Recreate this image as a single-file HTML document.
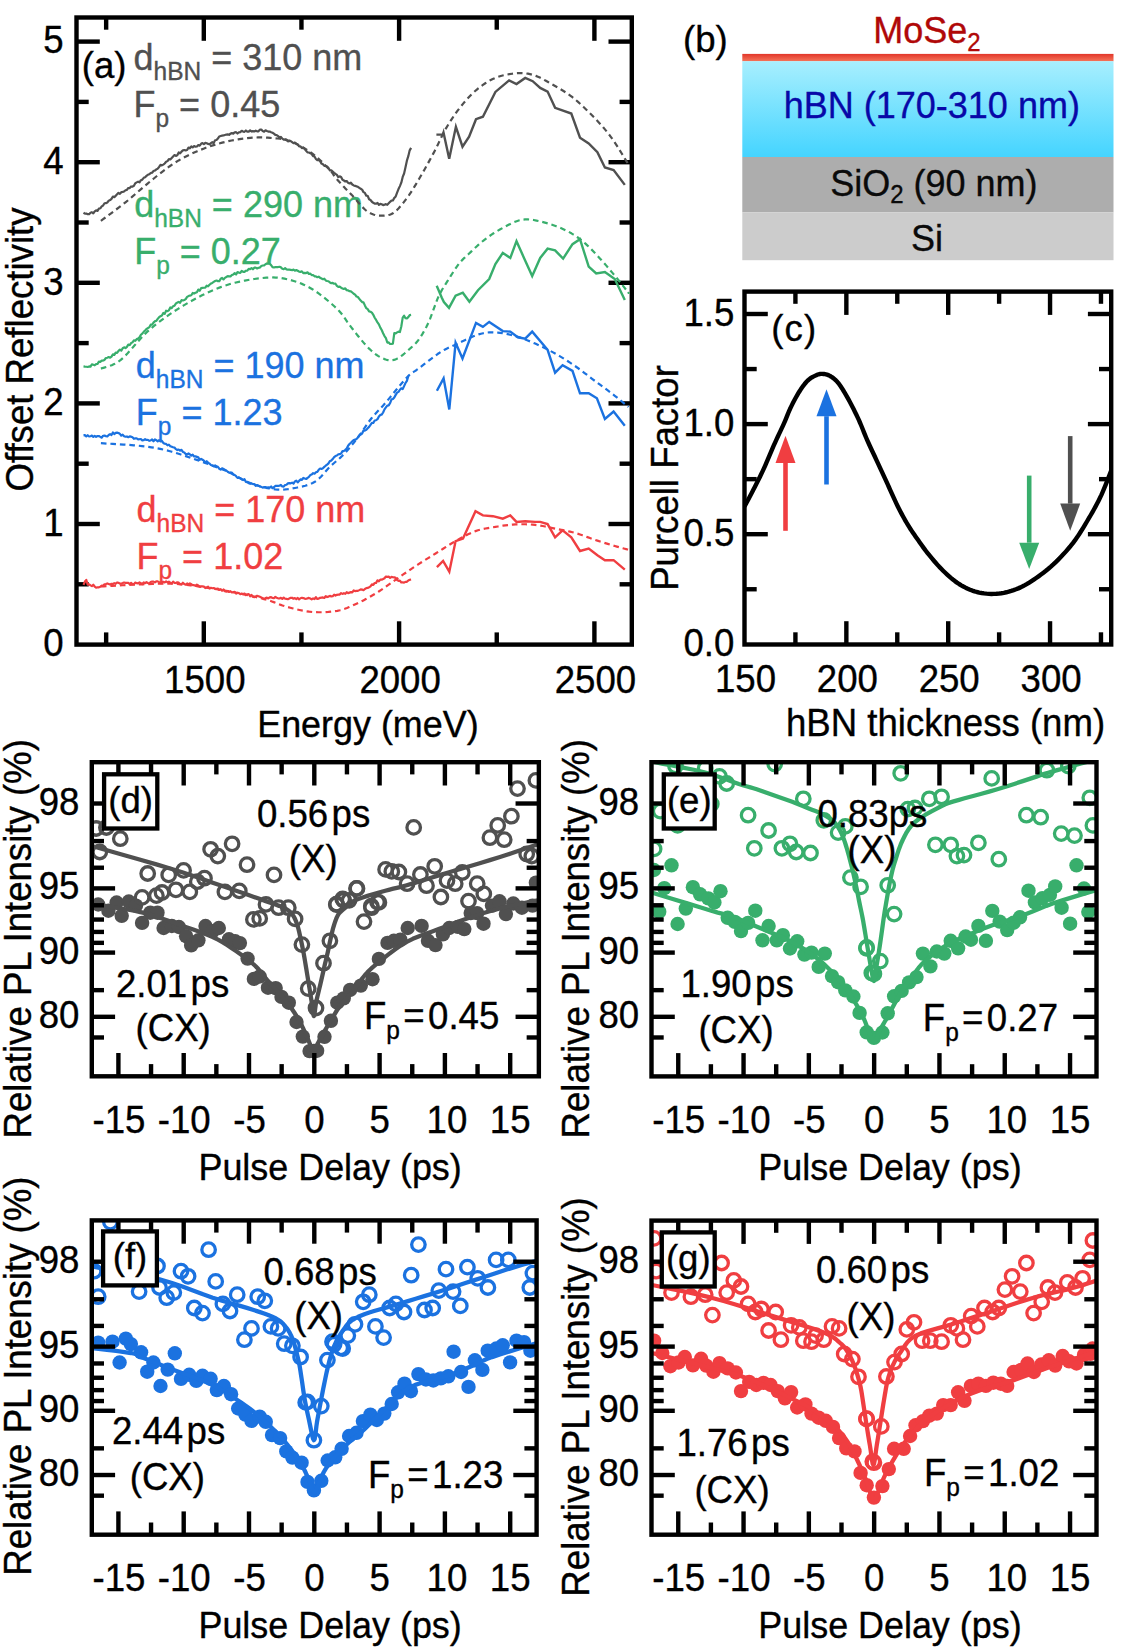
<!DOCTYPE html><html><head><meta charset="utf-8"><style>html,body{margin:0;padding:0;background:#fff;}svg{display:block;font-family:"Liberation Sans",sans-serif;}</style></head><body><svg width="1125" height="1651" viewBox="0 0 1125 1651"><rect width="100%" height="100%" fill="#fff"/><rect x="76.5" y="17.5" width="555.3" height="627.1" fill="none" stroke="#000" stroke-width="4.4" stroke-linejoin="miter"/><line x1="203.8" y1="644.6" x2="203.8" y2="621.3" stroke="#000" stroke-width="4.4" stroke-linecap="butt"/><line x1="203.8" y1="17.5" x2="203.8" y2="40.8" stroke="#000" stroke-width="4.4" stroke-linecap="butt"/><line x1="399.1" y1="644.6" x2="399.1" y2="621.3" stroke="#000" stroke-width="4.4" stroke-linecap="butt"/><line x1="399.1" y1="17.5" x2="399.1" y2="40.8" stroke="#000" stroke-width="4.4" stroke-linecap="butt"/><line x1="594.4" y1="644.6" x2="594.4" y2="621.3" stroke="#000" stroke-width="4.4" stroke-linecap="butt"/><line x1="594.4" y1="17.5" x2="594.4" y2="40.8" stroke="#000" stroke-width="4.4" stroke-linecap="butt"/><line x1="106.15" y1="644.6" x2="106.15" y2="632.4" stroke="#000" stroke-width="4.4" stroke-linecap="butt"/><line x1="106.15" y1="17.5" x2="106.15" y2="29.7" stroke="#000" stroke-width="4.4" stroke-linecap="butt"/><line x1="301.45" y1="644.6" x2="301.45" y2="632.4" stroke="#000" stroke-width="4.4" stroke-linecap="butt"/><line x1="301.45" y1="17.5" x2="301.45" y2="29.7" stroke="#000" stroke-width="4.4" stroke-linecap="butt"/><line x1="496.75" y1="644.6" x2="496.75" y2="632.4" stroke="#000" stroke-width="4.4" stroke-linecap="butt"/><line x1="496.75" y1="17.5" x2="496.75" y2="29.7" stroke="#000" stroke-width="4.4" stroke-linecap="butt"/><line x1="76.5" y1="524" x2="99.8" y2="524" stroke="#000" stroke-width="4.4" stroke-linecap="butt"/><line x1="631.8" y1="524" x2="608.5" y2="524" stroke="#000" stroke-width="4.4" stroke-linecap="butt"/><line x1="76.5" y1="403.4" x2="99.8" y2="403.4" stroke="#000" stroke-width="4.4" stroke-linecap="butt"/><line x1="631.8" y1="403.4" x2="608.5" y2="403.4" stroke="#000" stroke-width="4.4" stroke-linecap="butt"/><line x1="76.5" y1="282.8" x2="99.8" y2="282.8" stroke="#000" stroke-width="4.4" stroke-linecap="butt"/><line x1="631.8" y1="282.8" x2="608.5" y2="282.8" stroke="#000" stroke-width="4.4" stroke-linecap="butt"/><line x1="76.5" y1="162.2" x2="99.8" y2="162.2" stroke="#000" stroke-width="4.4" stroke-linecap="butt"/><line x1="631.8" y1="162.2" x2="608.5" y2="162.2" stroke="#000" stroke-width="4.4" stroke-linecap="butt"/><line x1="76.5" y1="41.6" x2="99.8" y2="41.6" stroke="#000" stroke-width="4.4" stroke-linecap="butt"/><line x1="631.8" y1="41.6" x2="608.5" y2="41.6" stroke="#000" stroke-width="4.4" stroke-linecap="butt"/><line x1="76.5" y1="584.3" x2="88.7" y2="584.3" stroke="#000" stroke-width="4.4" stroke-linecap="butt"/><line x1="631.8" y1="584.3" x2="619.6" y2="584.3" stroke="#000" stroke-width="4.4" stroke-linecap="butt"/><line x1="76.5" y1="463.7" x2="88.7" y2="463.7" stroke="#000" stroke-width="4.4" stroke-linecap="butt"/><line x1="631.8" y1="463.7" x2="619.6" y2="463.7" stroke="#000" stroke-width="4.4" stroke-linecap="butt"/><line x1="76.5" y1="343.1" x2="88.7" y2="343.1" stroke="#000" stroke-width="4.4" stroke-linecap="butt"/><line x1="631.8" y1="343.1" x2="619.6" y2="343.1" stroke="#000" stroke-width="4.4" stroke-linecap="butt"/><line x1="76.5" y1="222.5" x2="88.7" y2="222.5" stroke="#000" stroke-width="4.4" stroke-linecap="butt"/><line x1="631.8" y1="222.5" x2="619.6" y2="222.5" stroke="#000" stroke-width="4.4" stroke-linecap="butt"/><line x1="76.5" y1="101.9" x2="88.7" y2="101.9" stroke="#000" stroke-width="4.4" stroke-linecap="butt"/><line x1="631.8" y1="101.9" x2="619.6" y2="101.9" stroke="#000" stroke-width="4.4" stroke-linecap="butt"/><g transform="translate(133.5 70.2) scale(1 1.035)"><text x="0" y="0" font-size="36" fill="#505050" stroke="#505050" stroke-width="0.35">d<tspan font-size="24.5" dy="9.5">hBN</tspan><tspan dy="-9.5"> = 310 nm</tspan></text></g><g transform="translate(133.5 117.4) scale(1 1.035)"><text x="0" y="0" font-size="36" fill="#505050" stroke="#505050" stroke-width="0.35">F<tspan font-size="24.5" dy="9.5">p</tspan><tspan dy="-9.5"> = 0.45</tspan></text></g><g transform="translate(134.2 216.9) scale(1 1.035)"><text x="0" y="0" font-size="36" fill="#38ae6c" stroke="#38ae6c" stroke-width="0.35">d<tspan font-size="24.5" dy="9.5">hBN</tspan><tspan dy="-9.5"> = 290 nm</tspan></text></g><g transform="translate(134.2 264.3) scale(1 1.035)"><text x="0" y="0" font-size="36" fill="#38ae6c" stroke="#38ae6c" stroke-width="0.35">F<tspan font-size="24.5" dy="9.5">p</tspan><tspan dy="-9.5"> = 0.27</tspan></text></g><g transform="translate(135.8 377.7) scale(1 1.035)"><text x="0" y="0" font-size="36" fill="#1b72e0" stroke="#1b72e0" stroke-width="0.35">d<tspan font-size="24.5" dy="9.5">hBN</tspan><tspan dy="-9.5"> = 190 nm</tspan></text></g><g transform="translate(135.8 425.1) scale(1 1.035)"><text x="0" y="0" font-size="36" fill="#1b72e0" stroke="#1b72e0" stroke-width="0.35">F<tspan font-size="24.5" dy="9.5">p</tspan><tspan dy="-9.5"> = 1.23</tspan></text></g><g transform="translate(136.5 521.8) scale(1 1.035)"><text x="0" y="0" font-size="36" fill="#f03e41" stroke="#f03e41" stroke-width="0.35">d<tspan font-size="24.5" dy="9.5">hBN</tspan><tspan dy="-9.5"> = 170 nm</tspan></text></g><g transform="translate(136.5 569) scale(1 1.035)"><text x="0" y="0" font-size="36" fill="#f03e41" stroke="#f03e41" stroke-width="0.35">F<tspan font-size="24.5" dy="9.5">p</tspan><tspan dy="-9.5"> = 1.02</tspan></text></g><polyline points="100.9,220.8 102.82,219.37 105.37,217.5 108.41,215.26 111.79,212.77 115.37,210.11 118.99,207.38 122.52,204.68 125.8,202.1 128.91,199.56 132.03,196.94 135.14,194.26 138.25,191.55 141.36,188.84 144.47,186.16 147.59,183.54 150.7,181 153.81,178.5 156.93,176.01 160.04,173.53 163.16,171.11 166.27,168.75 169.38,166.48 172.49,164.32 175.6,162.3 178.7,160.42 181.8,158.65 184.9,157 188,155.43 191.1,153.95 194.2,152.54 197.3,151.2 200.4,149.9 203.51,148.66 206.62,147.5 209.73,146.4 212.84,145.38 215.96,144.41 219.07,143.52 222.19,142.68 225.3,141.9 228.45,141.18 231.64,140.53 234.86,139.93 238.06,139.4 241.23,138.93 244.33,138.53 247.33,138.18 250.2,137.9 252.93,137.69 255.53,137.54 258.03,137.46 260.46,137.44 262.86,137.48 265.24,137.57 267.65,137.71 270.1,137.9 272.57,138.09 275.02,138.28 277.45,138.5 279.89,138.78 282.35,139.15 284.85,139.66 287.39,140.33 290,141.2 292.71,142.29 295.54,143.56 298.43,145 301.34,146.57 304.24,148.24 307.08,149.99 309.81,151.79 312.4,153.6 314.92,155.54 317.44,157.69 319.91,159.96 322.3,162.27 324.55,164.53 326.61,166.66 328.45,168.58 330,170.2 331.2,171.49 332.05,172.5 332.64,173.31 333.06,173.99 333.39,174.6 333.74,175.21 334.18,175.88 334.8,176.7 335.58,177.64 336.43,178.63 337.33,179.65 338.26,180.69 339.2,181.74 340.13,182.76 341.04,183.76 341.9,184.7 342.72,185.6 343.53,186.48 344.33,187.33 345.11,188.16 345.88,188.97 346.63,189.77 347.37,190.54 348.1,191.3 348.78,192 349.4,192.62 350,193.2 350.58,193.78 351.19,194.38 351.84,195.04 352.57,195.8 353.4,196.7 354.35,197.78 355.41,199.02 356.55,200.37 357.74,201.77 358.94,203.19 360.12,204.55 361.25,205.8 362.3,206.9 363.25,207.85 364.13,208.72 364.96,209.52 365.77,210.25 366.59,210.92 367.45,211.55 368.38,212.14 369.4,212.7 370.5,213.25 371.65,213.78 372.84,214.28 374.09,214.73 375.38,215.12 376.73,215.42 378.14,215.62 379.6,215.7 381.14,215.72 382.78,215.72 384.48,215.65 386.23,215.49 388,215.18 389.79,214.69 391.56,213.97 393.3,213 395.02,211.74 396.74,210.24 398.47,208.51 400.19,206.61 401.92,204.55 403.65,202.37 405.37,200.11 407.1,197.8 408.83,195.4 410.55,192.85 412.28,190.18 414,187.41 415.73,184.56 417.45,181.66 419.18,178.74 420.9,175.8 422.64,172.81 424.42,169.71 426.2,166.55 427.97,163.35 429.73,160.15 431.45,156.99 433.11,153.89 434.7,150.9 436.19,148 437.58,145.17 438.91,142.38 440.2,139.64 441.49,136.93 442.82,134.24 444.21,131.57 445.7,128.9 447.27,126.23 448.89,123.57 450.55,120.92 452.26,118.29 454,115.7 455.79,113.15 457.63,110.64 459.5,108.2 461.41,105.79 463.37,103.4 465.37,101.04 467.41,98.73 469.49,96.49 471.61,94.32 473.79,92.26 476,90.3 478.26,88.43 480.56,86.63 482.91,84.91 485.31,83.28 487.74,81.74 490.22,80.33 492.74,79.04 495.3,77.9 497.96,76.9 500.74,76.03 503.59,75.28 506.47,74.65 509.33,74.13 512.12,73.72 514.79,73.41 517.3,73.2 519.63,73.09 521.83,73.08 523.92,73.19 525.94,73.39 527.92,73.7 529.88,74.11 531.87,74.61 533.9,75.2 535.93,75.89 537.9,76.68 539.85,77.57 541.81,78.56 543.81,79.64 545.89,80.81 548.08,82.06 550.4,83.4 552.89,84.81 555.51,86.29 558.24,87.86 561.05,89.52 563.9,91.27 566.76,93.13 569.61,95.11 572.4,97.2 575.2,99.47 578.05,101.93 580.93,104.52 583.79,107.21 586.62,109.94 589.37,112.67 592,115.34 594.5,117.9 596.84,120.34 599.05,122.7 601.16,125.02 603.19,127.33 605.16,129.65 607.1,132.03 609.04,134.5 611,137.1 613.04,139.97 615.17,143.13 617.32,146.46 619.43,149.81 621.43,153.03 623.25,156 624.83,158.57 626.1,160.6 627.02,162.05 627.65,163.04 628.04,163.67 628.24,164.02 628.33,164.18 628.37,164.26 628.4,164.33 628.5,164.5" fill="none" stroke="#505050" stroke-width="2.2" stroke-linejoin="round" stroke-linecap="butt" stroke-dasharray="5.6 3.9"/><polyline points="83.5,212.72 84.9,213.58 86.3,213.49 87.7,214.17 89.1,214.2 90.5,212.76 91.9,212.22 93.3,213.39 94.7,211.28 96.1,210.27 97.5,210.89 98.9,208.64 100.3,208.3 101.7,206.34 103.1,205.52 104.5,203.27 105.9,203.17 107.3,202.54 108.7,200.65 110.1,200.06 111.5,198.86 112.9,196.53 114.3,197.11 115.7,195.83 117.1,194.32 118.5,192.87 119.9,193.87 121.3,192.18 122.7,191.9 124.1,191.45 125.5,190.28 126.9,189.94 128.3,187.98 129.7,188.06 131.1,186.46 132.5,186.71 133.9,185.75 135.3,183.17 136.7,182.37 138.1,181.64 139.5,182.33 140.9,180.19 142.3,179.61 143.7,177.85 145.1,177.25 146.5,175.9 147.9,174.73 149.3,174.15 150.7,173.05 152.1,172.66 153.5,171.09 154.9,170.58 156.3,169.38 157.7,168.67 159.1,166.97 160.5,164.86 161.9,165.4 163.3,164.64 164.7,163.51 166.1,161.79 167.5,161.13 168.9,159.06 170.3,159.47 171.7,157.96 173.1,156.41 174.5,155.01 175.9,155.87 177.3,155.32 178.7,152.51 180.1,153.29 181.5,151.68 182.9,150.39 184.3,150.02 185.7,150.42 187.1,150.01 188.5,147.59 189.9,148.27 191.3,146.46 192.7,147.41 194.1,146.05 195.5,146.77 196.9,146.53 198.3,145.04 199.7,145.7 201.1,143.82 202.5,143.05 203.9,144.08 205.3,142.84 206.7,143.3 208.1,143.87 209.5,144.32 210.9,143.07 212.3,142.23 213.7,142.96 215.1,140.22 216.5,140.02 217.9,138.55 219.3,136.44 220.7,135.96 222.1,135.58 223.5,135.43 224.9,134.95 226.3,134.54 227.7,134.37 229.1,134.8 230.5,133.59 231.9,133.18 233.3,133.59 234.7,132.3 236.1,132.22 237.5,133.5 238.9,132.29 240.3,132.16 241.7,130.82 243.1,131.57 244.5,131.81 245.9,130.48 247.3,131.7 248.7,131.66 250.1,130.34 251.5,131.53 252.9,131.11 254.3,131.5 255.7,130.68 257.1,131.34 258.5,131.29 259.9,129.62 261.3,129.65 262.7,131 264.1,131.69 265.5,130.27 266.9,130.96 268.3,131.61 269.7,131.49 271.1,132.18 272.5,132.74 273.9,133.61 275.3,134.9 276.7,135.07 278.1,136.05 279.5,137.71 280.9,136.82 282.3,138.71 283.7,139.69 285.1,139.32 286.5,139.65 287.9,141.42 289.3,140.66 290.7,141.04 292.1,142.1 293.5,143.24 294.9,142.52 296.3,143.66 297.7,144.41 299.1,146.3 300.5,146.29 301.9,148.14 303.3,147.62 304.7,149 306.1,150.75 307.5,152.35 308.9,152.5 310.3,153.13 311.7,154.04 313.1,156.08 314.5,156.49 315.9,159 317.3,160.22 318.7,159.93 320.1,161.28 321.5,163.56 322.9,164.31 324.3,165.78 325.7,165.89 327.1,166.55 328.5,168.05 329.9,170.3 331.3,170.29 332.7,171.58 334.1,172.84 335.5,173.93 336.9,174.96 338.3,177.09 339.7,176.37 341.1,176.94 342.5,179.85 343.9,180.5 345.3,181.5 346.7,181.02 348.1,182.86 349.5,183.51 350.9,182.66 352.3,184.51 353.7,185.44 355.1,185.83 356.5,186.36 357.9,186.77 359.3,187.88 360.7,188.74 362.1,189.63 363.5,192.1 364.9,192.91 366.3,195.76 367.7,195.81 369.1,199.23 370.5,200.03 371.9,201.74 373.3,202.77 374.7,203.69 376.1,203.67 377.5,202.91 378.9,204.86 380.3,203.84 381.7,204.26 383.1,205.1 384.5,204.67 385.9,204.13 387.3,204.77 388.7,203.33 390.1,201.84 391.5,200.53 392.9,200.46 394.3,197.88 395.7,196.38 397.1,192.7 398.5,189.08 399.9,186.11 401.3,182.65 402.7,176.89 404.1,173.48 405.5,167.23 406.9,160.65 408.3,156.17 409.7,150.35 411.1,147.87" fill="none" stroke="#505050" stroke-width="2.2" stroke-linejoin="round" stroke-linecap="butt"/><polyline points="436.4,134.6 442.8,134.6 443.5,132.5 449.2,158.8 455.9,126.8 462.5,146.7 469.1,136.7 476,119.2 482.9,116.7 495.4,91.9 509.1,80.4 516.5,84.1 525.2,77.9 532.7,81.2 540.2,87.9 547.6,91.6 555.1,107.8 571.3,113.5 580,137.7 588.7,143.4 597.4,152.1 604.9,167.5 613.6,170 624.8,184.9" fill="none" stroke="#505050" stroke-width="2.4" stroke-linejoin="miter" stroke-linecap="butt"/><polyline points="100.9,368.6 102.37,368.08 104.24,367.57 106.47,366.97 108.98,366.21 111.73,365.2 114.66,363.87 117.7,362.13 120.8,359.9 124.01,357.03 127.4,353.53 130.95,349.57 134.66,345.31 138.51,340.92 142.47,336.56 146.54,332.4 150.7,328.6 155.01,325.06 159.5,321.59 164.15,318.19 168.89,314.88 173.69,311.68 178.5,308.61 183.29,305.68 188,302.9 192.66,300.26 197.32,297.73 201.98,295.33 206.64,293.06 211.31,290.94 215.97,288.96 220.63,287.14 225.3,285.5 230.06,284.03 234.94,282.72 239.87,281.58 244.78,280.58 249.59,279.73 254.23,279.02 258.63,278.45 262.7,278 266.4,277.68 269.78,277.5 272.92,277.47 275.88,277.56 278.75,277.8 281.59,278.16 284.48,278.67 287.5,279.3 290.61,280.06 293.72,280.94 296.83,281.94 299.94,283.09 303.06,284.38 306.17,285.82 309.29,287.43 312.4,289.2 315.6,291.24 318.94,293.59 322.33,296.15 325.69,298.84 328.95,301.57 332.02,304.25 334.83,306.79 337.3,309.1 339.38,311.21 341.13,313.2 342.62,315.1 343.92,316.93 345.11,318.7 346.25,320.44 347.42,322.17 348.7,323.9 350.03,325.63 351.33,327.33 352.61,329 353.87,330.65 355.13,332.27 356.38,333.87 357.63,335.45 358.9,337 360.17,338.55 361.45,340.09 362.72,341.62 364,343.12 365.27,344.58 366.55,345.99 367.82,347.33 369.1,348.6 370.38,349.8 371.65,350.95 372.93,352.05 374.21,353.09 375.48,354.07 376.76,354.99 378.03,355.83 379.3,356.6 380.58,357.31 381.86,357.97 383.16,358.56 384.44,359.09 385.72,359.53 386.98,359.89 388.21,360.15 389.4,360.3 390.54,360.35 391.64,360.3 392.7,360.16 393.74,359.93 394.79,359.61 395.85,359.2 396.95,358.69 398.1,358.1 399.3,357.39 400.54,356.56 401.82,355.62 403.11,354.6 404.41,353.52 405.71,352.39 407.01,351.24 408.3,350.1 409.57,348.98 410.85,347.89 412.12,346.77 413.4,345.62 414.68,344.39 415.95,343.04 417.23,341.56 418.5,339.9 419.78,338.08 421.06,336.14 422.34,334.08 423.62,331.9 424.9,329.6 426.18,327.18 427.44,324.65 428.7,322 429.95,319.12 431.18,315.97 432.41,312.63 433.64,309.21 434.86,305.8 436.07,302.49 437.29,299.4 438.5,296.6 439.7,294.12 440.88,291.87 442.05,289.8 443.23,287.85 444.41,285.97 445.61,284.1 446.83,282.2 448.1,280.2 449.41,278.1 450.75,275.93 452.12,273.74 453.51,271.56 454.91,269.42 456.32,267.36 457.72,265.41 459.1,263.6 460.46,261.97 461.79,260.49 463.11,259.12 464.43,257.83 465.78,256.57 467.16,255.31 468.6,254 470.1,252.6 471.66,251.12 473.27,249.59 474.92,248.03 476.61,246.45 478.34,244.87 480.11,243.31 481.94,241.78 483.8,240.3 485.69,238.85 487.6,237.43 489.54,236.02 491.53,234.63 493.59,233.27 495.72,231.92 497.96,230.6 500.3,229.3 502.78,227.95 505.4,226.51 508.12,225.05 510.92,223.63 513.76,222.32 516.63,221.19 519.48,220.29 522.3,219.7 525.1,219.43 527.92,219.42 530.76,219.63 533.6,220.03 536.44,220.57 539.28,221.2 542.1,221.89 544.9,222.6 547.72,223.36 550.57,224.23 553.44,225.2 556.28,226.24 559.08,227.35 561.8,228.51 564.42,229.7 566.9,230.9 569.23,232.11 571.41,233.33 573.49,234.59 575.49,235.89 577.45,237.25 579.4,238.7 581.38,240.24 583.4,241.9 585.46,243.68 587.52,245.58 589.59,247.57 591.65,249.64 593.71,251.77 595.77,253.96 597.84,256.17 599.9,258.4 602,260.71 604.15,263.14 606.33,265.64 608.49,268.17 610.62,270.68 612.66,273.12 614.6,275.44 616.4,277.6 618.11,279.67 619.77,281.72 621.36,283.72 622.86,285.61 624.24,287.37 625.47,288.95 626.54,290.31 627.4,291.4 628.02,292.18 628.4,292.65 628.59,292.89 628.64,292.96 628.6,292.92 628.53,292.84 628.48,292.78 628.5,292.8" fill="none" stroke="#38ae6c" stroke-width="2.2" stroke-linejoin="round" stroke-linecap="butt" stroke-dasharray="5.6 3.9"/><polyline points="83.5,366.37 84.9,366.6 86.3,366.74 87.7,367.01 89.1,366.43 90.5,366.58 91.9,364.26 93.3,364.76 94.7,365.27 96.1,364.05 97.5,364.01 98.9,361.65 100.3,361.8 101.7,360.64 103.1,360.61 104.5,359.98 105.9,358.01 107.3,357.71 108.7,357.09 110.1,357.7 111.5,356.56 112.9,354.39 114.3,354.94 115.7,352.63 117.1,352.8 118.5,350.83 119.9,349.65 121.3,350.64 122.7,348.26 124.1,347.33 125.5,348.06 126.9,346.84 128.3,344.57 129.7,345.04 131.1,343.09 132.5,342.35 133.9,340.25 135.3,340.79 136.7,339.12 138.1,338.61 139.5,337.26 140.9,334.74 142.3,333.6 143.7,331.88 145.1,330.5 146.5,328.96 147.9,328.1 149.3,327.37 150.7,324.66 152.1,324.74 153.5,322.61 154.9,321.17 156.3,320.93 157.7,318.85 159.1,317.19 160.5,316.28 161.9,315.57 163.3,312.96 164.7,313.86 166.1,310.66 167.5,311.17 168.9,310.32 170.3,307.46 171.7,308.14 173.1,306.21 174.5,305.7 175.9,303.48 177.3,302.61 178.7,301.97 180.1,302.74 181.5,300.16 182.9,300.49 184.3,299.98 185.7,299.12 187.1,296.92 188.5,296.07 189.9,295.58 191.3,295.28 192.7,292.97 194.1,293.55 195.5,292.84 196.9,292.17 198.3,289.57 199.7,290.79 201.1,288.14 202.5,287.92 203.9,287.77 205.3,287.71 206.7,285.72 208.1,286.29 209.5,284.76 210.9,283.55 212.3,282.89 213.7,281.92 215.1,281.05 216.5,280.57 217.9,281.13 219.3,281.21 220.7,278.77 222.1,277.94 223.5,279.43 224.9,277.87 226.3,277.04 227.7,276.12 229.1,276.37 230.5,276.35 231.9,275.02 233.3,274.43 234.7,273.12 236.1,274.52 237.5,272.08 238.9,272.61 240.3,272.9 241.7,270.9 243.1,271.79 244.5,271.85 245.9,270.73 247.3,270.67 248.7,268.78 250.1,269.11 251.5,268.1 252.9,269.25 254.3,267.66 255.7,267.62 257.1,268.44 258.5,267.72 259.9,267.58 261.3,265.97 262.7,265.51 264.1,265.42 265.5,264.22 266.9,263.46 268.3,263.75 269.7,263.77 271.1,265.12 272.5,267.11 273.9,267.5 275.3,267.12 276.7,267.13 278.1,267.03 279.5,266.73 280.9,267.36 282.3,268.7 283.7,269.11 285.1,268.21 286.5,269.37 287.9,269.57 289.3,269.62 290.7,269.79 292.1,270.24 293.5,269.62 294.9,270.63 296.3,269.99 297.7,270.73 299.1,271.68 300.5,271.85 301.9,271.34 303.3,273.15 304.7,272.89 306.1,273.14 307.5,272.3 308.9,273.91 310.3,273.68 311.7,275.06 313.1,275.04 314.5,276.29 315.9,276.38 317.3,277.19 318.7,276.69 320.1,277.83 321.5,278.55 322.9,279.26 324.3,278.74 325.7,280.38 327.1,281.02 328.5,281.24 329.9,282.54 331.3,283.19 332.7,282.96 334.1,283.74 335.5,283.71 336.9,285.95 338.3,286.91 339.7,286.6 341.1,287.72 342.5,288.4 343.9,289.01 345.3,288.35 346.7,290.25 348.1,290.39 349.5,291.18 350.9,291.3 352.3,292.49 353.7,293.74 355.1,294.67 356.5,296.53 357.9,296.98 359.3,298.83 360.7,300.61 362.1,302.12 363.5,302.41 364.9,305.4 366.3,308.15 367.7,309.21 369.1,311.37 370.5,311.73 371.9,312.61 373.3,314.82 374.7,317.72 376.1,319.95 377.5,322.34 378.9,324.33 380.3,327.66 381.7,330 383.1,333.27 384.5,336.1 385.9,338.12 387.3,342.53 388.7,342.4 390.1,344.01 391.5,343.98 392.9,343.57 394.3,333.04 395.7,333.37 397.1,332.37 398.5,331.62 399.9,332.07 401.3,326.49 402.7,317.59 404.1,315.7 405.5,318.24 406.9,318.37 408.3,317.09 409.7,315.13 411.1,314.88" fill="none" stroke="#38ae6c" stroke-width="2.2" stroke-linejoin="round" stroke-linecap="butt"/><polyline points="436.7,285.8 441.8,297.7 443.9,302.1 449,307.9 455.6,295.6 462.8,292.7 469.4,301.8 478,290.2 489.2,279 495.4,264.1 502.8,252.9 510.3,257.9 516.5,241.2 524,257.9 532.2,276 540.2,257.9 547.6,248.7 555.1,250.4 563.1,258.6 572.5,244.2 580,239.2 588.7,266.6 596.2,273.5 604.9,272 614.8,279 624.8,299.9" fill="none" stroke="#38ae6c" stroke-width="2.4" stroke-linejoin="miter" stroke-linecap="butt"/><polyline points="100.9,443.2 103.86,443.38 107.89,443.62 112.7,443.9 117.99,444.21 123.48,444.56 128.87,444.93 133.88,445.31 138.2,445.7 141.91,446.09 145.3,446.47 148.45,446.87 151.43,447.29 154.31,447.75 157.17,448.27 160.07,448.84 163.1,449.5 166.13,450.21 169.03,450.95 171.89,451.73 174.78,452.58 177.75,453.51 180.9,454.52 184.29,455.65 188,456.9 192.15,458.32 196.74,459.91 201.62,461.63 206.65,463.43 211.68,465.27 216.56,467.11 221.15,468.9 225.3,470.6 229.01,472.26 232.4,473.96 235.55,475.65 238.53,477.32 241.41,478.93 244.27,480.45 247.17,481.85 250.2,483.1 253.35,484.23 256.54,485.27 259.76,486.22 262.96,487.06 266.13,487.8 269.23,488.43 272.23,488.93 275.1,489.3 277.83,489.53 280.43,489.62 282.93,489.58 285.36,489.43 287.76,489.18 290.14,488.85 292.55,488.45 295,488 297.52,487.52 300.09,487 302.67,486.43 305.25,485.76 307.79,484.99 310.26,484.09 312.64,483.03 314.9,481.8 317.03,480.32 319.04,478.59 320.97,476.67 322.83,474.64 324.64,472.56 326.43,470.49 328.21,468.52 330,466.7 331.79,465.05 333.54,463.51 335.27,462.03 336.98,460.59 338.68,459.13 340.38,457.62 342.08,456.03 343.8,454.3 345.53,452.45 347.25,450.53 348.98,448.54 350.71,446.48 352.43,444.37 354.16,442.22 355.88,440.02 357.6,437.8 359.32,435.49 361.03,433.08 362.74,430.59 364.45,428.07 366.16,425.56 367.87,423.1 369.58,420.74 371.3,418.5 372.96,416.48 374.55,414.67 376.11,412.98 377.68,411.32 379.32,409.62 381.07,407.77 382.98,405.69 385.1,403.3 387.53,400.44 390.28,397.12 393.23,393.53 396.28,389.82 399.3,386.16 402.18,382.73 404.82,379.69 407.1,377.2 408.93,375.37 410.36,374.07 411.54,373.15 412.59,372.46 413.65,371.84 414.83,371.14 416.27,370.21 418.1,368.9 420.37,367.16 422.98,365.14 425.82,362.91 428.81,360.59 431.83,358.27 434.81,356.05 437.63,354.03 440.2,352.3 442.49,350.88 444.59,349.69 446.56,348.68 448.46,347.77 450.36,346.92 452.32,346.06 454.41,345.14 456.7,344.1 459.22,342.91 461.94,341.6 464.78,340.23 467.69,338.86 470.6,337.54 473.44,336.32 476.17,335.25 478.7,334.4 481.02,333.74 483.17,333.23 485.21,332.84 487.18,332.56 489.14,332.39 491.12,332.32 493.2,332.32 495.4,332.4 497.73,332.56 500.15,332.84 502.63,333.2 505.15,333.66 507.7,334.18 510.25,334.77 512.79,335.42 515.3,336.1 517.79,336.84 520.27,337.65 522.76,338.53 525.25,339.46 527.74,340.44 530.23,341.47 532.71,342.52 535.2,343.6 537.69,344.7 540.18,345.85 542.66,347.02 545.15,348.24 547.64,349.49 550.13,350.79 552.61,352.12 555.1,353.5 557.59,354.92 560.08,356.39 562.56,357.89 565.05,359.44 567.54,361.02 570.02,362.65 572.51,364.3 575,366 577.49,367.75 579.98,369.56 582.46,371.41 584.95,373.3 587.44,375.21 589.92,377.12 592.41,379.02 594.9,380.9 597.43,382.79 600.02,384.71 602.63,386.65 605.24,388.58 607.79,390.48 610.26,392.34 612.61,394.11 614.8,395.8 616.9,397.45 618.98,399.12 620.99,400.76 622.89,402.33 624.64,403.78 626.18,405.07 627.49,406.16 628.5,407" fill="none" stroke="#1b72e0" stroke-width="2.2" stroke-linejoin="round" stroke-linecap="butt" stroke-dasharray="5.6 3.9"/><polyline points="83.5,435.38 84.9,435.09 86.3,436.45 87.7,435.22 89.1,436.48 90.5,436.22 91.9,435.62 93.3,436.83 94.7,435.8 96.1,436.84 97.5,436.02 98.9,436.09 100.3,436.85 101.7,437.68 103.1,435.74 104.5,435.63 105.9,436.15 107.3,436.42 108.7,435 110.1,434.05 111.5,434.99 112.9,432.42 114.3,434.19 115.7,432.83 117.1,432.69 118.5,432.99 119.9,433.94 121.3,435.71 122.7,434.74 124.1,436.21 125.5,436.75 126.9,436.46 128.3,437.21 129.7,436.37 131.1,436.68 132.5,437.33 133.9,438.77 135.3,438.44 136.7,438.42 138.1,439.31 139.5,439.22 140.9,439.04 142.3,440.37 143.7,440.23 145.1,439.19 146.5,440.01 147.9,439.92 149.3,440.78 150.7,440.46 152.1,439.47 153.5,441.23 154.9,439.31 156.3,440.23 157.7,441.33 159.1,440.24 160.5,441.48 161.9,440.88 163.3,442.93 164.7,443.76 166.1,443.93 167.5,445.31 168.9,444.62 170.3,446.21 171.7,446.64 173.1,447.26 174.5,447.6 175.9,449.15 177.3,450.02 178.7,449.51 180.1,450.59 181.5,449.78 182.9,451.95 184.3,452.45 185.7,453.91 187.1,454.14 188.5,453.48 189.9,454.36 191.3,455.68 192.7,454.76 194.1,456.45 195.5,456.39 196.9,456.9 198.3,457.39 199.7,459.73 201.1,458.82 202.5,459.74 203.9,460.71 205.3,462.48 206.7,461.21 208.1,462.71 209.5,463.57 210.9,464.99 212.3,465.46 213.7,466.19 215.1,465.41 216.5,466.36 217.9,466.86 219.3,468.75 220.7,469.56 222.1,468.27 223.5,468.98 224.9,469.77 226.3,470.44 227.7,471.72 229.1,472.67 230.5,472.59 231.9,472.68 233.3,474.39 234.7,475 236.1,476.2 237.5,477.85 238.9,477.94 240.3,478.24 241.7,479.19 243.1,480.02 244.5,479.2 245.9,481.89 247.3,482.27 248.7,483.17 250.1,483.66 251.5,483.37 252.9,484.05 254.3,483.99 255.7,485.89 257.1,485.11 258.5,485.68 259.9,486.52 261.3,486.84 262.7,487.62 264.1,487.16 265.5,487.15 266.9,487.49 268.3,487.23 269.7,487.61 271.1,486.49 272.5,488.21 273.9,487.29 275.3,485.92 276.7,485.95 278.1,485.95 279.5,485.77 280.9,484.95 282.3,486.45 283.7,486.53 285.1,484.98 286.5,484.71 287.9,483.42 289.3,483.1 290.7,483.29 292.1,482.66 293.5,483.56 294.9,481.48 296.3,480.67 297.7,482.41 299.1,480.88 300.5,479.43 301.9,479.82 303.3,477.99 304.7,478.56 306.1,478.99 307.5,478.01 308.9,476.87 310.3,475.06 311.7,474.49 313.1,473.16 314.5,473.72 315.9,472.21 317.3,471.85 318.7,469.78 320.1,468.52 321.5,468.9 322.9,468.28 324.3,466.9 325.7,465.72 327.1,464.66 328.5,463.38 329.9,461.04 331.3,460.62 332.7,459.11 334.1,457.19 335.5,456.04 336.9,455.5 338.3,454.29 339.7,454.15 341.1,453.57 342.5,451.11 343.9,451.03 345.3,449.86 346.7,448.48 348.1,445.73 349.5,444.04 350.9,442.72 352.3,441.3 353.7,439.98 355.1,439.65 356.5,438.99 357.9,437.53 359.3,435.36 360.7,434.48 362.1,433.53 363.5,430.52 364.9,430.6 366.3,429.89 367.7,428.28 369.1,426.88 370.5,424.9 371.9,422.85 373.3,422.96 374.7,420.49 376.1,420.23 377.5,419.22 378.9,416.4 380.3,414.91 381.7,414.65 383.1,412.47 384.5,409.4 385.9,407.44 387.3,405.56 388.7,405.35 390.1,403.05 391.5,399.38 392.9,398.97 394.3,397.41 395.7,394.9 397.1,392.65 398.5,391.86 399.9,389.75 401.3,388.3 402.7,389.06 404.1,386.12 405.5,383.03 406.9,380.81 408.3,376.16" fill="none" stroke="#1b72e0" stroke-width="2.2" stroke-linejoin="round" stroke-linecap="butt"/><polyline points="436.9,390.8 443.6,378.4 449.3,409.5 455.6,342.8 462.5,358.5 476,322.9 482.9,326.9 489.2,321.9 502.8,331.1 510.3,331.6 517.8,337.3 525.2,338.6 532.2,331.6 547.6,349.8 555.1,372.7 562.6,365.2 572.5,370.9 580,393.3 588.7,393.3 596.9,398.3 604.9,419 613.6,411.5 624.8,425.7" fill="none" stroke="#1b72e0" stroke-width="2.4" stroke-linejoin="miter" stroke-linecap="butt"/><polyline points="100.9,586.5 103.78,586.34 107.61,586.11 112.18,585.84 117.25,585.54 122.61,585.24 128.04,584.96 133.31,584.7 138.2,584.5 142.87,584.32 147.59,584.13 152.32,583.95 157.03,583.79 161.69,583.68 166.26,583.64 170.71,583.67 175,583.8 179.11,584.04 183.07,584.39 186.9,584.81 190.65,585.29 194.34,585.82 198.01,586.38 201.68,586.95 205.4,587.5 209.17,588.06 212.96,588.65 216.76,589.26 220.54,589.89 224.27,590.53 227.94,591.18 231.53,591.84 235,592.5 238.45,593.18 241.92,593.9 245.37,594.64 248.72,595.39 251.92,596.11 254.91,596.8 257.62,597.44 260,598 261.93,598.46 263.4,598.81 264.56,599.1 265.52,599.36 266.43,599.62 267.41,599.92 268.59,600.31 270.1,600.8 271.87,601.42 273.76,602.14 275.76,602.93 277.88,603.76 280.1,604.61 282.45,605.45 284.92,606.26 287.5,607 290.25,607.72 293.2,608.48 296.29,609.24 299.48,609.96 302.73,610.63 306,611.21 309.24,611.68 312.4,612 315.55,612.18 318.77,612.27 322.01,612.25 325.24,612.14 328.42,611.93 331.51,611.64 334.48,611.26 337.3,610.8 339.93,610.24 342.38,609.59 344.71,608.83 346.96,607.99 349.17,607.08 351.39,606.11 353.65,605.07 356,604 358.43,602.87 360.89,601.67 363.37,600.4 365.87,599.08 368.38,597.7 370.9,596.28 373.4,594.81 375.9,593.3 378.39,591.73 380.88,590.08 383.36,588.38 385.85,586.63 388.34,584.86 390.82,583.09 393.31,581.33 395.8,579.6 398.29,577.89 400.78,576.17 403.26,574.44 405.75,572.73 408.24,571.02 410.73,569.32 413.21,567.65 415.7,566 418.19,564.38 420.67,562.8 423.16,561.23 425.64,559.68 428.13,558.13 430.62,556.59 433.11,555.05 435.6,553.5 438.1,551.93 440.6,550.34 443.1,548.74 445.6,547.14 448.1,545.57 450.6,544.03 453.1,542.53 455.6,541.1 458.09,539.7 460.58,538.3 463.07,536.92 465.56,535.59 468.04,534.32 470.53,533.14 473.01,532.06 475.5,531.1 477.99,530.29 480.48,529.6 482.96,529.03 485.45,528.53 487.94,528.1 490.42,527.69 492.91,527.3 495.4,526.9 497.89,526.49 500.38,526.09 502.86,525.71 505.35,525.36 507.84,525.04 510.32,524.77 512.81,524.56 515.3,524.4 517.79,524.3 520.27,524.24 522.76,524.23 525.25,524.26 527.74,524.35 530.23,524.48 532.71,524.66 535.2,524.9 537.69,525.21 540.18,525.59 542.66,526.03 545.15,526.51 547.64,527.03 550.13,527.56 552.61,528.09 555.1,528.6 557.59,529.09 560.08,529.57 562.56,530.05 565.05,530.55 567.54,531.07 570.02,531.63 572.51,532.23 575,532.9 577.49,533.64 579.98,534.46 582.46,535.33 584.95,536.23 587.44,537.15 589.92,538.06 592.41,538.95 594.9,539.8 597.43,540.62 600.02,541.46 602.63,542.28 605.24,543.09 607.79,543.88 610.26,544.64 612.61,545.34 614.8,546 616.9,546.62 618.98,547.21 620.99,547.77 622.89,548.29 624.64,548.76 626.18,549.17 627.49,549.52 628.5,549.8" fill="none" stroke="#f03e41" stroke-width="2.2" stroke-linejoin="round" stroke-linecap="butt" stroke-dasharray="5.6 3.9"/><polyline points="83.5,584.93 84.9,581.58 86.3,579.95 87.7,584.59 89.1,584.28 90.5,585.37 91.9,586.11 93.3,584.79 94.7,586.61 96.1,587.75 97.5,587.32 98.9,587.3 100.3,586.68 101.7,585.68 103.1,585.77 104.5,584.22 105.9,584.01 107.3,583.44 108.7,583.96 110.1,584.58 111.5,583.74 112.9,583.98 114.3,583.12 115.7,583.78 117.1,582.47 118.5,582.83 119.9,583.6 121.3,583.72 122.7,583.12 124.1,582.48 125.5,582.86 126.9,582.77 128.3,582.94 129.7,584.02 131.1,582.82 132.5,584.21 133.9,584.2 135.3,582.55 136.7,583.18 138.1,583.39 139.5,582.4 140.9,583.15 142.3,584.03 143.7,582.36 145.1,583.23 146.5,582.18 147.9,582.99 149.3,583.52 150.7,582.03 152.1,581.54 153.5,581.59 154.9,582.41 156.3,581.29 157.7,581.36 159.1,582.14 160.5,582.95 161.9,581.94 163.3,581.9 164.7,582.42 166.1,581.37 167.5,582.4 168.9,581.66 170.3,582.61 171.7,583.41 173.1,581.7 174.5,582.81 175.9,583.03 177.3,582.25 178.7,582.62 180.1,584.21 181.5,584.36 182.9,582.76 184.3,584.08 185.7,584.73 187.1,583.47 188.5,584.39 189.9,583.43 191.3,584.27 192.7,585.1 194.1,585.15 195.5,585.77 196.9,584.65 198.3,585.43 199.7,586.74 201.1,586.45 202.5,586.46 203.9,586.63 205.3,588.05 206.7,587.48 208.1,586.63 209.5,588.45 210.9,587.77 212.3,588.24 213.7,588.06 215.1,588.79 216.5,588.81 217.9,588.6 219.3,589.95 220.7,589.16 222.1,590.78 223.5,589.52 224.9,591.29 226.3,591.6 227.7,591.23 229.1,591.91 230.5,591.24 231.9,592.47 233.3,592.09 234.7,591.96 236.1,593.67 237.5,592.8 238.9,592.99 240.3,594.22 241.7,593.49 243.1,594.33 244.5,593.59 245.9,595.19 247.3,594.28 248.7,594.12 250.1,596.23 251.5,594.9 252.9,596.73 254.3,597.11 255.7,596.66 257.1,595.79 258.5,596.2 259.9,596.81 261.3,597.46 262.7,598.17 264.1,599.1 265.5,598.03 266.9,597.68 268.3,598.46 269.7,597.42 271.1,597.13 272.5,597.96 273.9,598.2 275.3,596.94 276.7,597.75 278.1,598.31 279.5,598.5 280.9,597.81 282.3,598.9 283.7,597.54 285.1,598.72 286.5,598.91 287.9,599.21 289.3,598.51 290.7,597.79 292.1,597.75 293.5,598.76 294.9,598.1 296.3,599.04 297.7,597.97 299.1,599.36 300.5,598.24 301.9,597.8 303.3,598.09 304.7,598.62 306.1,598.79 307.5,598.4 308.9,597.91 310.3,598.47 311.7,599.32 313.1,598.41 314.5,599.12 315.9,597.18 317.3,598.99 318.7,598.64 320.1,597.8 321.5,597.59 322.9,597.44 324.3,598 325.7,596.11 327.1,597.04 328.5,596.6 329.9,595.87 331.3,596.46 332.7,596.18 334.1,594.68 335.5,595.58 336.9,594.8 338.3,594.59 339.7,594.58 341.1,593.12 342.5,593.91 343.9,593.15 345.3,593.85 346.7,592.25 348.1,593.13 349.5,592.63 350.9,592.12 352.3,592.32 353.7,590.34 355.1,591.18 356.5,590.94 357.9,590.83 359.3,590.11 360.7,589.34 362.1,589.56 363.5,590.24 364.9,588.95 366.3,588.07 367.7,587.88 369.1,587.23 370.5,586.41 371.9,584.4 373.3,584.89 374.7,582.98 376.1,582.85 377.5,580.3 378.9,581.24 380.3,579.63 381.7,579.64 383.1,579.01 384.5,578.21 385.9,576.49 387.3,576.9 388.7,576.67 390.1,577.87 391.5,576.92 392.9,577.27 394.3,577.42 395.7,577.86 397.1,579.98 398.5,580.79 399.9,580.68 401.3,582.47 402.7,582.47 404.1,582.56 405.5,581.87 406.9,581.85 408.3,580.41 409.7,579.75 411.1,579.56" fill="none" stroke="#f03e41" stroke-width="2.2" stroke-linejoin="round" stroke-linecap="butt"/><polyline points="436.9,567.2 443.1,561 449.3,571.7 455.6,541.1 463,538.6 475.5,511.2 482.9,515.4 492.9,516.2 502.8,518.7 510.3,515.4 516.5,521.9 525.2,521.2 535.2,521.9 540.2,521.9 547.6,524.1 555.1,537.3 562.6,530.4 571.3,537.3 580,551 588.7,548.5 597.4,555.3 604.9,560.2 613.6,560.2 624.8,569.7" fill="none" stroke="#f03e41" stroke-width="2.4" stroke-linejoin="miter" stroke-linecap="butt"/><g transform="translate(63.5 656.3) scale(1 1.06)"><text x="0" y="0" font-size="36.6" text-anchor="end" fill="#000"  stroke="#000" stroke-width="0.35">0</text></g><g transform="translate(63.5 535.7) scale(1 1.06)"><text x="0" y="0" font-size="36.6" text-anchor="end" fill="#000"  stroke="#000" stroke-width="0.35">1</text></g><g transform="translate(63.5 415.1) scale(1 1.06)"><text x="0" y="0" font-size="36.6" text-anchor="end" fill="#000"  stroke="#000" stroke-width="0.35">2</text></g><g transform="translate(63.5 294.5) scale(1 1.06)"><text x="0" y="0" font-size="36.6" text-anchor="end" fill="#000"  stroke="#000" stroke-width="0.35">3</text></g><g transform="translate(63.5 173.9) scale(1 1.06)"><text x="0" y="0" font-size="36.6" text-anchor="end" fill="#000"  stroke="#000" stroke-width="0.35">4</text></g><g transform="translate(63.5 53.3) scale(1 1.06)"><text x="0" y="0" font-size="36.6" text-anchor="end" fill="#000"  stroke="#000" stroke-width="0.35">5</text></g><g transform="translate(204.8 693) scale(1 1.06)"><text x="0" y="0" font-size="36.6" text-anchor="middle" fill="#000"  stroke="#000" stroke-width="0.35">1500</text></g><g transform="translate(400.1 693) scale(1 1.06)"><text x="0" y="0" font-size="36.6" text-anchor="middle" fill="#000"  stroke="#000" stroke-width="0.35">2000</text></g><g transform="translate(595.4 693) scale(1 1.06)"><text x="0" y="0" font-size="36.6" text-anchor="middle" fill="#000"  stroke="#000" stroke-width="0.35">2500</text></g><g transform="translate(367.9 737.2) scale(1 1.05)"><text x="0" y="0" font-size="35.9" text-anchor="middle" fill="#000"  stroke="#000" stroke-width="0.35">Energy (meV)</text></g><g transform="translate(33.2 349.5) rotate(-90) scale(1 1.06)"><text x="0" y="0" font-size="36.6" text-anchor="middle" fill="#000" stroke="#000" stroke-width="0.35">Offset Reflectivity</text></g><g transform="translate(81.8 77.8) scale(1 1.0)"><text x="0" y="0" font-size="36.6" text-anchor="start" fill="#000"  stroke="#000" stroke-width="0.35">(a)</text></g><defs><linearGradient id="hbn" x1="0" y1="0" x2="0" y2="1"><stop offset="0" stop-color="#a8effe"/><stop offset="1" stop-color="#44d4ff"/></linearGradient><linearGradient id="mose" x1="0" y1="0" x2="0" y2="1"><stop offset="0" stop-color="#e2362a"/><stop offset="1" stop-color="#f47459"/></linearGradient></defs><rect x="742.3" y="53.9" width="371.2" height="7.4" fill="url(#mose)"/><rect x="742.3" y="61.2" width="371.2" height="95.9" fill="url(#hbn)"/><rect x="742.3" y="157" width="371.2" height="55.3" fill="#adadad"/><rect x="742.3" y="212.3" width="371.2" height="47.9" fill="#cccccc"/><g transform="translate(683 52) scale(1 1.0)"><text x="0" y="0" font-size="36.6" text-anchor="start" fill="#000"  stroke="#000" stroke-width="0.35">(b)</text></g><g transform="translate(927 42.8) scale(1 1.05)"><text x="0" y="0" font-size="36" fill="#b00808" text-anchor="middle" stroke="#b00808" stroke-width="0.35">MoSe<tspan font-size="24" dy="7.5">2</tspan></text></g><g transform="translate(931.8 117.9) scale(1 1.0)"><text x="0" y="0" font-size="36" fill="#0808a8" text-anchor="middle" stroke="#0808a8" stroke-width="0.35">hBN (170-310 nm)</text></g><g transform="translate(933.9 195.6) scale(1 1.05)"><text x="0" y="0" font-size="36" fill="#0a0a0a" text-anchor="middle" stroke="#0a0a0a" stroke-width="0.35">SiO<tspan font-size="24" dy="7.5">2</tspan><tspan dy="-7.5"> (90 nm)</tspan></text></g><g transform="translate(927 250.9) scale(1 1.05)"><text x="0" y="0" font-size="36" text-anchor="middle" fill="#0a0a0a"  stroke="#0a0a0a" stroke-width="0.35">Si</text></g><clipPath id="clipc"><rect x="744.5" y="291.6" width="366.7" height="352.9"/></clipPath><polyline clip-path="url(#clipc)" points="744.5,506.5 745.2,505.19 746.11,503.48 747.2,501.45 748.42,499.18 749.71,496.74 751.04,494.23 752.35,491.72 753.6,489.3 754.81,486.93 756.05,484.5 757.31,482.03 758.58,479.51 759.86,476.93 761.14,474.31 762.43,471.63 763.7,468.9 764.97,466.08 766.24,463.17 767.52,460.18 768.79,457.16 770.07,454.12 771.35,451.09 772.62,448.11 773.9,445.2 775.2,442.32 776.53,439.42 777.87,436.53 779.21,433.67 780.52,430.87 781.79,428.16 782.99,425.56 784.1,423.1 785.1,420.81 786,418.66 786.82,416.64 787.61,414.69 788.37,412.8 789.16,410.93 789.99,409.04 790.9,407.1 791.88,405.1 792.91,403.06 793.97,401.02 795.05,398.99 796.15,397 797.24,395.07 798.33,393.23 799.4,391.5 800.45,389.87 801.5,388.29 802.55,386.79 803.6,385.36 804.65,384.01 805.7,382.74 806.75,381.57 807.8,380.5 808.87,379.54 809.98,378.68 811.09,377.92 812.2,377.24 813.29,376.64 814.35,376.11 815.36,375.63 816.3,375.2 817.16,374.82 817.94,374.52 818.66,374.27 819.36,374.09 820.04,373.97 820.75,373.9 821.49,373.88 822.3,373.9 823.17,373.96 824.07,374.04 824.99,374.18 825.94,374.36 826.91,374.62 827.9,374.95 828.9,375.37 829.9,375.9 830.91,376.5 831.92,377.14 832.95,377.86 833.99,378.66 835.06,379.58 836.14,380.62 837.25,381.83 838.4,383.2 839.59,384.77 840.81,386.53 842.07,388.44 843.34,390.49 844.63,392.63 845.93,394.85 847.22,397.12 848.5,399.4 849.78,401.74 851.08,404.18 852.39,406.71 853.7,409.29 855,411.9 856.27,414.52 857.51,417.13 858.7,419.7 859.83,422.23 860.9,424.76 861.94,427.27 862.95,429.79 863.96,432.33 865,434.89 866.07,437.47 867.2,440.1 868.39,442.77 869.63,445.49 870.9,448.23 872.19,450.99 873.5,453.77 874.81,456.56 876.11,459.33 877.4,462.1 878.68,464.86 879.95,467.62 881.23,470.38 882.51,473.15 883.78,475.92 885.06,478.68 886.33,481.44 887.6,484.2 888.87,486.98 890.13,489.78 891.39,492.6 892.65,495.41 893.91,498.2 895.17,500.93 896.43,503.61 897.7,506.2 898.97,508.72 900.24,511.19 901.52,513.61 902.79,515.97 904.07,518.29 905.35,520.55 906.62,522.75 907.9,524.9 909.17,526.97 910.44,528.96 911.7,530.88 912.96,532.76 914.23,534.6 915.51,536.42 916.8,538.25 918.1,540.1 919.4,541.94 920.68,543.76 921.96,545.56 923.25,547.35 924.57,549.15 925.95,550.97 927.38,552.81 928.9,554.7 930.5,556.65 932.17,558.66 933.9,560.72 935.67,562.78 937.49,564.84 939.34,566.86 941.22,568.82 943.1,570.7 945,572.53 946.93,574.34 948.89,576.12 950.88,577.85 952.89,579.52 954.93,581.11 957,582.61 959.1,584 961.23,585.3 963.38,586.52 965.57,587.66 967.78,588.72 970.02,589.69 972.29,590.56 974.58,591.33 976.9,592 979.26,592.56 981.65,593.03 984.08,593.41 986.54,593.68 989.01,593.86 991.48,593.94 993.95,593.92 996.4,593.8 998.86,593.57 1001.34,593.24 1003.82,592.8 1006.31,592.27 1008.78,591.65 1011.22,590.94 1013.64,590.15 1016,589.3 1018.3,588.37 1020.54,587.37 1022.73,586.29 1024.91,585.12 1027.08,583.87 1029.27,582.53 1031.51,581.11 1033.8,579.6 1036.16,578 1038.55,576.33 1040.98,574.57 1043.44,572.72 1045.91,570.79 1048.38,568.76 1050.85,566.63 1053.3,564.4 1055.77,562.05 1058.28,559.59 1060.8,557.02 1063.32,554.36 1065.81,551.62 1068.25,548.82 1070.62,545.98 1072.9,543.1 1075.1,540.15 1077.24,537.09 1079.32,533.95 1081.35,530.76 1083.32,527.56 1085.24,524.38 1087.1,521.25 1088.9,518.2 1090.64,515.24 1092.31,512.33 1093.92,509.47 1095.48,506.63 1096.99,503.79 1098.46,500.94 1099.89,498.05 1101.3,495.1 1102.72,491.93 1104.18,488.48 1105.63,484.9 1107.02,481.36 1108.32,477.99 1109.48,474.96 1110.45,472.41 1111.2,470.5" fill="none" stroke="#000" stroke-width="4.4" stroke-linejoin="round"/><line x1="785.5" y1="530.8" x2="785.5" y2="463" stroke="#f03e41" stroke-width="4.6" stroke-linecap="butt"/><polygon points="775.5,463 795.5,463 785.5,435.8" fill="#f03e41"/><line x1="826.5" y1="484.5" x2="826.5" y2="416.2" stroke="#1b72e0" stroke-width="4.6" stroke-linecap="butt"/><polygon points="816.5,416.2 836.5,416.2 826.5,389.2" fill="#1b72e0"/><line x1="1029.2" y1="475.6" x2="1029.2" y2="542.7" stroke="#38ae6c" stroke-width="4.6" stroke-linecap="butt"/><polygon points="1019.2,542.7 1039.2,542.7 1029.2,568.9" fill="#38ae6c"/><line x1="1070.2" y1="436.1" x2="1070.2" y2="503.6" stroke="#505050" stroke-width="4.6" stroke-linecap="butt"/><polygon points="1060.2,503.6 1080.2,503.6 1070.2,530.7" fill="#505050"/><rect x="744.5" y="291.6" width="366.7" height="352.9" fill="none" stroke="#000" stroke-width="4.4" stroke-linejoin="miter"/><line x1="846.35" y1="644.5" x2="846.35" y2="621.2" stroke="#000" stroke-width="4.4" stroke-linecap="butt"/><line x1="846.35" y1="291.6" x2="846.35" y2="314.9" stroke="#000" stroke-width="4.4" stroke-linecap="butt"/><line x1="948.2" y1="644.5" x2="948.2" y2="621.2" stroke="#000" stroke-width="4.4" stroke-linecap="butt"/><line x1="948.2" y1="291.6" x2="948.2" y2="314.9" stroke="#000" stroke-width="4.4" stroke-linecap="butt"/><line x1="1050.05" y1="644.5" x2="1050.05" y2="621.2" stroke="#000" stroke-width="4.4" stroke-linecap="butt"/><line x1="1050.05" y1="291.6" x2="1050.05" y2="314.9" stroke="#000" stroke-width="4.4" stroke-linecap="butt"/><line x1="795.42" y1="644.5" x2="795.42" y2="632.3" stroke="#000" stroke-width="4.4" stroke-linecap="butt"/><line x1="795.42" y1="291.6" x2="795.42" y2="303.8" stroke="#000" stroke-width="4.4" stroke-linecap="butt"/><line x1="897.27" y1="644.5" x2="897.27" y2="632.3" stroke="#000" stroke-width="4.4" stroke-linecap="butt"/><line x1="897.27" y1="291.6" x2="897.27" y2="303.8" stroke="#000" stroke-width="4.4" stroke-linecap="butt"/><line x1="999.12" y1="644.5" x2="999.12" y2="632.3" stroke="#000" stroke-width="4.4" stroke-linecap="butt"/><line x1="999.12" y1="291.6" x2="999.12" y2="303.8" stroke="#000" stroke-width="4.4" stroke-linecap="butt"/><line x1="1100.97" y1="644.5" x2="1100.97" y2="632.3" stroke="#000" stroke-width="4.4" stroke-linecap="butt"/><line x1="1100.97" y1="291.6" x2="1100.97" y2="303.8" stroke="#000" stroke-width="4.4" stroke-linecap="butt"/><line x1="744.5" y1="534.2" x2="767.8" y2="534.2" stroke="#000" stroke-width="4.4" stroke-linecap="butt"/><line x1="1111.2" y1="534.2" x2="1087.9" y2="534.2" stroke="#000" stroke-width="4.4" stroke-linecap="butt"/><line x1="744.5" y1="424.1" x2="767.8" y2="424.1" stroke="#000" stroke-width="4.4" stroke-linecap="butt"/><line x1="1111.2" y1="424.1" x2="1087.9" y2="424.1" stroke="#000" stroke-width="4.4" stroke-linecap="butt"/><line x1="744.5" y1="314" x2="767.8" y2="314" stroke="#000" stroke-width="4.4" stroke-linecap="butt"/><line x1="1111.2" y1="314" x2="1087.9" y2="314" stroke="#000" stroke-width="4.4" stroke-linecap="butt"/><line x1="744.5" y1="589.25" x2="756.7" y2="589.25" stroke="#000" stroke-width="4.4" stroke-linecap="butt"/><line x1="1111.2" y1="589.25" x2="1099" y2="589.25" stroke="#000" stroke-width="4.4" stroke-linecap="butt"/><line x1="744.5" y1="479.15" x2="756.7" y2="479.15" stroke="#000" stroke-width="4.4" stroke-linecap="butt"/><line x1="1111.2" y1="479.15" x2="1099" y2="479.15" stroke="#000" stroke-width="4.4" stroke-linecap="butt"/><line x1="744.5" y1="369.05" x2="756.7" y2="369.05" stroke="#000" stroke-width="4.4" stroke-linecap="butt"/><line x1="1111.2" y1="369.05" x2="1099" y2="369.05" stroke="#000" stroke-width="4.4" stroke-linecap="butt"/><g transform="translate(734.3 656.2) scale(1 1.06)"><text x="0" y="0" font-size="36.6" text-anchor="end" fill="#000"  stroke="#000" stroke-width="0.35">0.0</text></g><g transform="translate(734.3 546.1) scale(1 1.06)"><text x="0" y="0" font-size="36.6" text-anchor="end" fill="#000"  stroke="#000" stroke-width="0.35">0.5</text></g><g transform="translate(734.3 436) scale(1 1.06)"><text x="0" y="0" font-size="36.6" text-anchor="end" fill="#000"  stroke="#000" stroke-width="0.35">1.0</text></g><g transform="translate(734.3 325.9) scale(1 1.06)"><text x="0" y="0" font-size="36.6" text-anchor="end" fill="#000"  stroke="#000" stroke-width="0.35">1.5</text></g><g transform="translate(745.5 691.5) scale(1 1.06)"><text x="0" y="0" font-size="36.6" text-anchor="middle" fill="#000"  stroke="#000" stroke-width="0.35">150</text></g><g transform="translate(847.35 691.5) scale(1 1.06)"><text x="0" y="0" font-size="36.6" text-anchor="middle" fill="#000"  stroke="#000" stroke-width="0.35">200</text></g><g transform="translate(949.2 691.5) scale(1 1.06)"><text x="0" y="0" font-size="36.6" text-anchor="middle" fill="#000"  stroke="#000" stroke-width="0.35">250</text></g><g transform="translate(1051.05 691.5) scale(1 1.06)"><text x="0" y="0" font-size="36.6" text-anchor="middle" fill="#000"  stroke="#000" stroke-width="0.35">300</text></g><g transform="translate(945.5 736.1) scale(1 1.06)"><text x="0" y="0" font-size="36.6" text-anchor="middle" fill="#000"  stroke="#000" stroke-width="0.35">hBN thickness (nm)</text></g><g transform="translate(678.4 478) rotate(-90) scale(1 1.06)"><text x="0" y="0" font-size="36.6" text-anchor="middle" fill="#000" stroke="#000" stroke-width="0.35">Purcell Factor</text></g><g transform="translate(771.2 341.2) scale(1 1.0)"><text x="0" y="0" font-size="36.6" text-anchor="start" fill="#000" letter-spacing="1.2" stroke="#000" stroke-width="0.35">(c)</text></g><clipPath id="clipd"><rect x="91.8" y="762.2" width="447.05" height="314.1"/></clipPath><g clip-path="url(#clipd)"><circle cx="98.2" cy="904.5" r="7.2" fill="#505050"/><circle cx="108.4" cy="910.7" r="7.2" fill="#505050"/><circle cx="116.6" cy="902.5" r="7.2" fill="#505050"/><circle cx="121.7" cy="915.8" r="7.2" fill="#505050"/><circle cx="128.8" cy="901.5" r="7.2" fill="#505050"/><circle cx="136" cy="905.6" r="7.2" fill="#505050"/><circle cx="142.1" cy="922.9" r="7.2" fill="#505050"/><circle cx="150.3" cy="912.7" r="7.2" fill="#505050"/><circle cx="157.5" cy="912.7" r="7.2" fill="#505050"/><circle cx="163.6" cy="928" r="7.2" fill="#505050"/><circle cx="171.8" cy="926" r="7.2" fill="#505050"/><circle cx="178.9" cy="927" r="7.2" fill="#505050"/><circle cx="186.1" cy="936.2" r="7.2" fill="#505050"/><circle cx="191.2" cy="945.4" r="7.2" fill="#505050"/><circle cx="198.4" cy="940.3" r="7.2" fill="#505050"/><circle cx="205.5" cy="926" r="7.2" fill="#505050"/><circle cx="212.7" cy="931.1" r="7.2" fill="#505050"/><circle cx="218.8" cy="928" r="7.2" fill="#505050"/><circle cx="229" cy="939.3" r="7.2" fill="#505050"/><circle cx="235.2" cy="941.3" r="7.2" fill="#505050"/><circle cx="239.9" cy="943.1" r="7.2" fill="#505050"/><circle cx="247.6" cy="958.6" r="7.2" fill="#505050"/><circle cx="253.9" cy="978.9" r="7.2" fill="#505050"/><circle cx="259.7" cy="976.5" r="7.2" fill="#505050"/><circle cx="268" cy="987.7" r="7.2" fill="#505050"/><circle cx="275.7" cy="988.1" r="7.2" fill="#505050"/><circle cx="281.5" cy="996.9" r="7.2" fill="#505050"/><circle cx="288.8" cy="1002.7" r="7.2" fill="#505050"/><circle cx="296.5" cy="1022" r="7.2" fill="#505050"/><circle cx="302.8" cy="1036.6" r="7.2" fill="#505050"/><circle cx="309.6" cy="1051.1" r="7.2" fill="#505050"/><circle cx="313.8" cy="1051" r="7.2" fill="#505050"/><circle cx="317.1" cy="1050.7" r="7.2" fill="#505050"/><circle cx="324.5" cy="1036.8" r="7.2" fill="#505050"/><circle cx="330.9" cy="1020.8" r="7.2" fill="#505050"/><circle cx="337.3" cy="1002.7" r="7.2" fill="#505050"/><circle cx="343.7" cy="998.4" r="7.2" fill="#505050"/><circle cx="350.1" cy="989.9" r="7.2" fill="#505050"/><circle cx="360.8" cy="985.6" r="7.2" fill="#505050"/><circle cx="372.5" cy="979.2" r="7.2" fill="#505050"/><circle cx="378.9" cy="958.9" r="7.2" fill="#505050"/><circle cx="387.5" cy="942.9" r="7.2" fill="#505050"/><circle cx="393.9" cy="940.8" r="7.2" fill="#505050"/><circle cx="400.3" cy="939.7" r="7.2" fill="#505050"/><circle cx="407.7" cy="928" r="7.2" fill="#505050"/><circle cx="421.6" cy="925.9" r="7.2" fill="#505050"/><circle cx="428" cy="940.8" r="7.2" fill="#505050"/><circle cx="435.5" cy="945.1" r="7.2" fill="#505050"/><circle cx="442.9" cy="934.4" r="7.2" fill="#505050"/><circle cx="449.3" cy="928" r="7.2" fill="#505050"/><circle cx="457.9" cy="926.9" r="7.2" fill="#505050"/><circle cx="464.3" cy="929.1" r="7.2" fill="#505050"/><circle cx="470.7" cy="913.1" r="7.2" fill="#505050"/><circle cx="477.1" cy="913.1" r="7.2" fill="#505050"/><circle cx="483.5" cy="923.7" r="7.2" fill="#505050"/><circle cx="492" cy="905.6" r="7.2" fill="#505050"/><circle cx="499.5" cy="901.3" r="7.2" fill="#505050"/><circle cx="505.9" cy="914.1" r="7.2" fill="#505050"/><circle cx="513.3" cy="903.5" r="7.2" fill="#505050"/><circle cx="521.9" cy="907.7" r="7.2" fill="#505050"/><circle cx="532.5" cy="905.6" r="7.2" fill="#505050"/><circle cx="535.9" cy="882.7" r="7.2" fill="#505050"/><polyline points="80,902 81.22,902.21 82.69,902.46 84.75,902.82 87.74,903.31 92,904 98.21,904.96 106.14,906.16 114.78,907.48 123.07,908.8 130,910 135.16,910.98 139.24,911.83 142.84,912.69 146.56,913.7 151,915 156.23,916.65 161.85,918.54 167.75,920.62 173.84,922.79 180,925 186.45,927.24 193.26,929.56 200.12,931.96 206.7,934.44 212.7,937 218.02,939.66 222.88,942.41 227.41,945.23 231.74,948.1 236,951 240.24,953.94 244.37,956.93 248.32,959.95 252.02,962.98 255.4,966 258.36,969.03 260.96,972.1 263.33,975.14 265.63,978.13 268,981 270.47,983.74 272.93,986.37 275.36,988.93 277.72,991.46 280,994 282.16,996.48 284.23,998.89 286.24,1001.31 288.21,1003.82 290.2,1006.5 292.23,1009.42 294.28,1012.51 296.3,1015.69 298.23,1018.88 300,1022 301.59,1025.06 303.03,1028.11 304.37,1031.13 305.68,1034.1 307,1037 308.36,1040.13 309.73,1043.52 311.07,1046.68 312.34,1049.17 313.5,1050.5 314.52,1050.37 315.42,1049.08 316.26,1047.12 317.1,1044.93 318,1043 318.94,1041.34 319.87,1039.65 320.84,1037.89 321.87,1036.02 323,1034 324.21,1031.86 325.47,1029.61 326.82,1027.23 328.28,1024.7 329.9,1022 331.66,1019.04 333.56,1015.84 335.58,1012.53 337.72,1009.21 340,1006 342.48,1002.94 345.17,999.93 347.94,996.95 350.69,993.96 353.3,990.9 355.71,987.72 357.99,984.45 360.24,981.18 362.54,978 365,975 367.42,972.34 369.73,969.97 372.23,967.64 375.2,965.1 378.9,962.1 383.5,958.41 388.82,954.19 394.61,949.8 400.65,945.58 406.7,941.9 412.83,938.85 419.2,936.2 425.7,933.79 432.23,931.48 438.7,929.1 445.1,926.64 451.5,924.2 457.9,921.81 464.3,919.5 470.7,917.3 476.86,915.24 482.77,913.31 488.8,911.44 495.32,909.59 502.7,907.7 511.94,905.61 522.79,903.36 533.75,901.19 543.32,899.32 550,898" fill="none" stroke="#505050" stroke-width="4.3" stroke-linejoin="round" stroke-linecap="butt"/><circle cx="96.1" cy="828.5" r="6.75" fill="none" stroke="#505050" stroke-width="3.3"/><circle cx="106.4" cy="827.5" r="6.75" fill="none" stroke="#505050" stroke-width="3.3"/><circle cx="120.3" cy="838.7" r="6.75" fill="none" stroke="#505050" stroke-width="3.3"/><circle cx="99.8" cy="852" r="6.75" fill="none" stroke="#505050" stroke-width="3.3"/><circle cx="147.7" cy="873.5" r="6.75" fill="none" stroke="#505050" stroke-width="3.3"/><circle cx="168.7" cy="874.9" r="6.75" fill="none" stroke="#505050" stroke-width="3.3"/><circle cx="183.6" cy="870.4" r="6.75" fill="none" stroke="#505050" stroke-width="3.3"/><circle cx="142.1" cy="897.4" r="6.75" fill="none" stroke="#505050" stroke-width="3.3"/><circle cx="156.4" cy="895.6" r="6.75" fill="none" stroke="#505050" stroke-width="3.3"/><circle cx="162" cy="892.5" r="6.75" fill="none" stroke="#505050" stroke-width="3.3"/><circle cx="175.9" cy="889.8" r="6.75" fill="none" stroke="#505050" stroke-width="3.3"/><circle cx="189.8" cy="891.9" r="6.75" fill="none" stroke="#505050" stroke-width="3.3"/><circle cx="197.3" cy="881.7" r="6.75" fill="none" stroke="#505050" stroke-width="3.3"/><circle cx="204.5" cy="878.2" r="6.75" fill="none" stroke="#505050" stroke-width="3.3"/><circle cx="210.6" cy="849.3" r="6.75" fill="none" stroke="#505050" stroke-width="3.3"/><circle cx="217.8" cy="856.1" r="6.75" fill="none" stroke="#505050" stroke-width="3.3"/><circle cx="232.1" cy="843.8" r="6.75" fill="none" stroke="#505050" stroke-width="3.3"/><circle cx="247" cy="864.7" r="6.75" fill="none" stroke="#505050" stroke-width="3.3"/><circle cx="274" cy="874.9" r="6.75" fill="none" stroke="#505050" stroke-width="3.3"/><circle cx="224.9" cy="891.9" r="6.75" fill="none" stroke="#505050" stroke-width="3.3"/><circle cx="239.3" cy="890.9" r="6.75" fill="none" stroke="#505050" stroke-width="3.3"/><circle cx="266" cy="904.4" r="6.75" fill="none" stroke="#505050" stroke-width="3.3"/><circle cx="278.6" cy="907.7" r="6.75" fill="none" stroke="#505050" stroke-width="3.3"/><circle cx="288.3" cy="907.7" r="6.75" fill="none" stroke="#505050" stroke-width="3.3"/><circle cx="253.4" cy="919.4" r="6.75" fill="none" stroke="#505050" stroke-width="3.3"/><circle cx="259.7" cy="918.4" r="6.75" fill="none" stroke="#505050" stroke-width="3.3"/><circle cx="295.1" cy="918.9" r="6.75" fill="none" stroke="#505050" stroke-width="3.3"/><circle cx="301.9" cy="944.6" r="6.75" fill="none" stroke="#505050" stroke-width="3.3"/><circle cx="308.2" cy="988.6" r="6.75" fill="none" stroke="#505050" stroke-width="3.3"/><circle cx="316" cy="1008" r="6.75" fill="none" stroke="#505050" stroke-width="3.3"/><circle cx="323.5" cy="963.2" r="6.75" fill="none" stroke="#505050" stroke-width="3.3"/><circle cx="329.9" cy="940.8" r="6.75" fill="none" stroke="#505050" stroke-width="3.3"/><circle cx="336.3" cy="904.5" r="6.75" fill="none" stroke="#505050" stroke-width="3.3"/><circle cx="343.7" cy="900.3" r="6.75" fill="none" stroke="#505050" stroke-width="3.3"/><circle cx="349.1" cy="900.3" r="6.75" fill="none" stroke="#505050" stroke-width="3.3"/><circle cx="356.5" cy="888.5" r="6.75" fill="none" stroke="#505050" stroke-width="3.3"/><circle cx="364" cy="921.6" r="6.75" fill="none" stroke="#505050" stroke-width="3.3"/><circle cx="371.5" cy="907.7" r="6.75" fill="none" stroke="#505050" stroke-width="3.3"/><circle cx="378.9" cy="902.4" r="6.75" fill="none" stroke="#505050" stroke-width="3.3"/><circle cx="535.9" cy="780.4" r="6.75" fill="none" stroke="#505050" stroke-width="3.3"/><circle cx="517.5" cy="788.6" r="6.75" fill="none" stroke="#505050" stroke-width="3.3"/><circle cx="413.7" cy="827.4" r="6.75" fill="none" stroke="#505050" stroke-width="3.3"/><circle cx="511.4" cy="816.2" r="6.75" fill="none" stroke="#505050" stroke-width="3.3"/><circle cx="497.7" cy="825.4" r="6.75" fill="none" stroke="#505050" stroke-width="3.3"/><circle cx="489.9" cy="837.7" r="6.75" fill="none" stroke="#505050" stroke-width="3.3"/><circle cx="504.2" cy="839.7" r="6.75" fill="none" stroke="#505050" stroke-width="3.3"/><circle cx="526.7" cy="854" r="6.75" fill="none" stroke="#505050" stroke-width="3.3"/><circle cx="531.8" cy="856.1" r="6.75" fill="none" stroke="#505050" stroke-width="3.3"/><circle cx="385.6" cy="869.4" r="6.75" fill="none" stroke="#505050" stroke-width="3.3"/><circle cx="391.8" cy="871.4" r="6.75" fill="none" stroke="#505050" stroke-width="3.3"/><circle cx="398.9" cy="872" r="6.75" fill="none" stroke="#505050" stroke-width="3.3"/><circle cx="420.4" cy="874.5" r="6.75" fill="none" stroke="#505050" stroke-width="3.3"/><circle cx="434.7" cy="866.3" r="6.75" fill="none" stroke="#505050" stroke-width="3.3"/><circle cx="462.3" cy="872.5" r="6.75" fill="none" stroke="#505050" stroke-width="3.3"/><circle cx="407.1" cy="883.7" r="6.75" fill="none" stroke="#505050" stroke-width="3.3"/><circle cx="426.5" cy="885.7" r="6.75" fill="none" stroke="#505050" stroke-width="3.3"/><circle cx="447" cy="880.6" r="6.75" fill="none" stroke="#505050" stroke-width="3.3"/><circle cx="455.2" cy="883.7" r="6.75" fill="none" stroke="#505050" stroke-width="3.3"/><circle cx="477.2" cy="883.7" r="6.75" fill="none" stroke="#505050" stroke-width="3.3"/><circle cx="483.8" cy="893.9" r="6.75" fill="none" stroke="#505050" stroke-width="3.3"/><circle cx="440.9" cy="897" r="6.75" fill="none" stroke="#505050" stroke-width="3.3"/><circle cx="468.5" cy="901.1" r="6.75" fill="none" stroke="#505050" stroke-width="3.3"/><circle cx="357" cy="888.4" r="6.75" fill="none" stroke="#505050" stroke-width="3.3"/><circle cx="342.7" cy="899" r="6.75" fill="none" stroke="#505050" stroke-width="3.3"/><circle cx="336.6" cy="904.1" r="6.75" fill="none" stroke="#505050" stroke-width="3.3"/><circle cx="371.3" cy="906.2" r="6.75" fill="none" stroke="#505050" stroke-width="3.3"/><circle cx="377.5" cy="902.1" r="6.75" fill="none" stroke="#505050" stroke-width="3.3"/><polyline points="80,842.5 80.55,842.66 80.68,842.71 81.74,843.03 85.07,844 92,846 104.24,849.5 120.91,854.24 139.43,859.53 157.24,864.68 171.8,869 182.27,872.26 190.38,874.92 197.33,877.33 204.36,879.81 212.7,882.7 223.1,886.26 234.74,890.27 246.49,894.34 257.22,898.08 265.8,901.1 271.84,903.23 276.08,904.73 279.13,905.86 281.57,906.86 284,908 286.3,909.19 288.08,910.27 289.51,911.36 290.76,912.56 292,914 293.22,915.68 294.29,917.52 295.25,919.52 296.14,921.68 297,924 297.8,926.51 298.52,929.21 299.19,932.05 299.84,935 300.5,938 301.18,941.07 301.85,944.24 302.51,947.5 303.16,950.82 303.8,954.2 304.42,957.67 305.03,961.24 305.63,964.86 306.22,968.47 306.8,972 307.38,975.48 307.95,978.95 308.52,982.38 309.07,985.74 309.6,989 310.11,992.18 310.61,995.29 311.1,998.31 311.56,1001.22 312,1004 312.41,1006.99 312.79,1010.22 313.15,1013.14 313.52,1015.25 313.9,1016 314.3,1014.97 314.71,1012.5 315.12,1009.26 315.55,1005.87 316,1003 316.47,1000.68 316.96,998.49 317.46,996.35 317.97,994.21 318.5,992 319.03,989.75 319.58,987.5 320.14,985.2 320.71,982.82 321.3,980.3 321.91,977.59 322.55,974.73 323.2,971.79 323.85,968.85 324.5,966 325.14,963.28 325.78,960.64 326.41,958.01 327.05,955.32 327.7,952.5 328.36,949.48 329.02,946.29 329.69,943.06 330.35,939.92 331,937 331.62,934.31 332.22,931.77 332.81,929.35 333.43,927.03 334.1,924.8 334.82,922.61 335.56,920.48 336.34,918.47 337.16,916.62 338,915 338.85,913.69 339.7,912.66 340.59,911.77 341.58,910.9 342.7,909.9 343.99,908.75 345.42,907.54 346.93,906.32 348.48,905.12 350,904 351.18,903.03 352.05,902.18 353.1,901.33 354.79,900.38 357.6,899.2 361.95,897.69 367.54,895.92 373.71,894.05 379.84,892.26 385.3,890.7 389.63,889.55 393.26,888.7 396.87,887.88 401.12,886.84 406.7,885.3 413.85,883.17 422.12,880.63 431.15,877.82 440.56,874.9 450,872 459.57,869.14 469.52,866.22 479.68,863.23 489.89,860.16 500,857 510.8,853.46 522.4,849.53 533.6,845.67 543.2,842.34 550,840" fill="none" stroke="#505050" stroke-width="4.3" stroke-linejoin="round" stroke-linecap="butt"/></g><g transform="translate(257 826.7) scale(1 1.05)"><text x="0" y="0" font-size="36.6" stroke="#000" stroke-width="0.35">0.56<tspan font-size="12"> </tspan>ps</text></g><g transform="translate(313.2 872.3) scale(1 1.05)"><text x="0" y="0" font-size="36.6" text-anchor="middle" stroke="#000" stroke-width="0.35">(X)</text></g><g transform="translate(116 996.5) scale(1 1.05)"><text x="0" y="0" font-size="36.6" stroke="#000" stroke-width="0.35">2.01<tspan font-size="12"> </tspan>ps</text></g><g transform="translate(173.2 1041.3) scale(1 1.05)"><text x="0" y="0" font-size="36.6" text-anchor="middle" stroke="#000" stroke-width="0.35">(CX)</text></g><g transform="translate(364 1028.8) scale(1 1.05)"><text x="0" y="0" font-size="36.6" stroke="#000" stroke-width="0.35">F<tspan font-size="24.5" dy="9.5">p</tspan><tspan dy="-9.5" font-size="12"> </tspan>=<tspan font-size="12"> </tspan>0.45</text></g><rect x="91.8" y="762.2" width="447.05" height="314.1" fill="none" stroke="#000" stroke-width="4.4" stroke-linejoin="miter"/><line x1="118.4" y1="1076.3" x2="118.4" y2="1053" stroke="#000" stroke-width="4.4" stroke-linecap="butt"/><line x1="118.4" y1="762.2" x2="118.4" y2="785.5" stroke="#000" stroke-width="4.4" stroke-linecap="butt"/><line x1="183.7" y1="1076.3" x2="183.7" y2="1053" stroke="#000" stroke-width="4.4" stroke-linecap="butt"/><line x1="183.7" y1="762.2" x2="183.7" y2="785.5" stroke="#000" stroke-width="4.4" stroke-linecap="butt"/><line x1="249" y1="1076.3" x2="249" y2="1053" stroke="#000" stroke-width="4.4" stroke-linecap="butt"/><line x1="249" y1="762.2" x2="249" y2="785.5" stroke="#000" stroke-width="4.4" stroke-linecap="butt"/><line x1="314.3" y1="1076.3" x2="314.3" y2="1053" stroke="#000" stroke-width="4.4" stroke-linecap="butt"/><line x1="314.3" y1="762.2" x2="314.3" y2="785.5" stroke="#000" stroke-width="4.4" stroke-linecap="butt"/><line x1="379.6" y1="1076.3" x2="379.6" y2="1053" stroke="#000" stroke-width="4.4" stroke-linecap="butt"/><line x1="379.6" y1="762.2" x2="379.6" y2="785.5" stroke="#000" stroke-width="4.4" stroke-linecap="butt"/><line x1="444.9" y1="1076.3" x2="444.9" y2="1053" stroke="#000" stroke-width="4.4" stroke-linecap="butt"/><line x1="444.9" y1="762.2" x2="444.9" y2="785.5" stroke="#000" stroke-width="4.4" stroke-linecap="butt"/><line x1="510.2" y1="1076.3" x2="510.2" y2="1053" stroke="#000" stroke-width="4.4" stroke-linecap="butt"/><line x1="510.2" y1="762.2" x2="510.2" y2="785.5" stroke="#000" stroke-width="4.4" stroke-linecap="butt"/><line x1="151.05" y1="1076.3" x2="151.05" y2="1064.1" stroke="#000" stroke-width="4.4" stroke-linecap="butt"/><line x1="151.05" y1="762.2" x2="151.05" y2="774.4" stroke="#000" stroke-width="4.4" stroke-linecap="butt"/><line x1="216.35" y1="1076.3" x2="216.35" y2="1064.1" stroke="#000" stroke-width="4.4" stroke-linecap="butt"/><line x1="216.35" y1="762.2" x2="216.35" y2="774.4" stroke="#000" stroke-width="4.4" stroke-linecap="butt"/><line x1="281.65" y1="1076.3" x2="281.65" y2="1064.1" stroke="#000" stroke-width="4.4" stroke-linecap="butt"/><line x1="281.65" y1="762.2" x2="281.65" y2="774.4" stroke="#000" stroke-width="4.4" stroke-linecap="butt"/><line x1="346.95" y1="1076.3" x2="346.95" y2="1064.1" stroke="#000" stroke-width="4.4" stroke-linecap="butt"/><line x1="346.95" y1="762.2" x2="346.95" y2="774.4" stroke="#000" stroke-width="4.4" stroke-linecap="butt"/><line x1="412.25" y1="1076.3" x2="412.25" y2="1064.1" stroke="#000" stroke-width="4.4" stroke-linecap="butt"/><line x1="412.25" y1="762.2" x2="412.25" y2="774.4" stroke="#000" stroke-width="4.4" stroke-linecap="butt"/><line x1="477.55" y1="1076.3" x2="477.55" y2="1064.1" stroke="#000" stroke-width="4.4" stroke-linecap="butt"/><line x1="477.55" y1="762.2" x2="477.55" y2="774.4" stroke="#000" stroke-width="4.4" stroke-linecap="butt"/><line x1="91.8" y1="803.51" x2="115.1" y2="803.51" stroke="#000" stroke-width="4.4" stroke-linecap="butt"/><line x1="538.85" y1="803.51" x2="515.55" y2="803.51" stroke="#000" stroke-width="4.4" stroke-linecap="butt"/><line x1="91.8" y1="888.39" x2="115.1" y2="888.39" stroke="#000" stroke-width="4.4" stroke-linecap="butt"/><line x1="538.85" y1="888.39" x2="515.55" y2="888.39" stroke="#000" stroke-width="4.4" stroke-linecap="butt"/><line x1="91.8" y1="952.6" x2="115.1" y2="952.6" stroke="#000" stroke-width="4.4" stroke-linecap="butt"/><line x1="538.85" y1="952.6" x2="515.55" y2="952.6" stroke="#000" stroke-width="4.4" stroke-linecap="butt"/><line x1="91.8" y1="1016.81" x2="115.1" y2="1016.81" stroke="#000" stroke-width="4.4" stroke-linecap="butt"/><line x1="538.85" y1="1016.81" x2="515.55" y2="1016.81" stroke="#000" stroke-width="4.4" stroke-linecap="butt"/><line x1="91.8" y1="841.07" x2="104" y2="841.07" stroke="#000" stroke-width="4.4" stroke-linecap="butt"/><line x1="538.85" y1="841.07" x2="526.65" y2="841.07" stroke="#000" stroke-width="4.4" stroke-linecap="butt"/><line x1="91.8" y1="867.72" x2="104" y2="867.72" stroke="#000" stroke-width="4.4" stroke-linecap="butt"/><line x1="538.85" y1="867.72" x2="526.65" y2="867.72" stroke="#000" stroke-width="4.4" stroke-linecap="butt"/><line x1="91.8" y1="905.28" x2="104" y2="905.28" stroke="#000" stroke-width="4.4" stroke-linecap="butt"/><line x1="538.85" y1="905.28" x2="526.65" y2="905.28" stroke="#000" stroke-width="4.4" stroke-linecap="butt"/><line x1="91.8" y1="919.56" x2="104" y2="919.56" stroke="#000" stroke-width="4.4" stroke-linecap="butt"/><line x1="538.85" y1="919.56" x2="526.65" y2="919.56" stroke="#000" stroke-width="4.4" stroke-linecap="butt"/><line x1="91.8" y1="931.93" x2="104" y2="931.93" stroke="#000" stroke-width="4.4" stroke-linecap="butt"/><line x1="538.85" y1="931.93" x2="526.65" y2="931.93" stroke="#000" stroke-width="4.4" stroke-linecap="butt"/><line x1="91.8" y1="942.84" x2="104" y2="942.84" stroke="#000" stroke-width="4.4" stroke-linecap="butt"/><line x1="538.85" y1="942.84" x2="526.65" y2="942.84" stroke="#000" stroke-width="4.4" stroke-linecap="butt"/><line x1="91.8" y1="990.16" x2="104" y2="990.16" stroke="#000" stroke-width="4.4" stroke-linecap="butt"/><line x1="538.85" y1="990.16" x2="526.65" y2="990.16" stroke="#000" stroke-width="4.4" stroke-linecap="butt"/><line x1="91.8" y1="1037.48" x2="104" y2="1037.48" stroke="#000" stroke-width="4.4" stroke-linecap="butt"/><line x1="538.85" y1="1037.48" x2="526.65" y2="1037.48" stroke="#000" stroke-width="4.4" stroke-linecap="butt"/><rect x="104.1" y="774.3" width="53.2" height="54.2" fill="#fff" stroke="#000" stroke-width="4.3"/><g transform="translate(130.7 812.5) scale(1 1.0)"><text x="0" y="0" font-size="36.6" text-anchor="middle" fill="#000"  stroke="#000" stroke-width="0.35">(d)</text></g><g transform="translate(79.4 814.51) scale(1 1.06)"><text x="0" y="0" font-size="36.6" text-anchor="end" fill="#000"  stroke="#000" stroke-width="0.35">98</text></g><g transform="translate(79.4 899.39) scale(1 1.06)"><text x="0" y="0" font-size="36.6" text-anchor="end" fill="#000"  stroke="#000" stroke-width="0.35">95</text></g><g transform="translate(79.4 963.6) scale(1 1.06)"><text x="0" y="0" font-size="36.6" text-anchor="end" fill="#000"  stroke="#000" stroke-width="0.35">90</text></g><g transform="translate(79.4 1027.81) scale(1 1.06)"><text x="0" y="0" font-size="36.6" text-anchor="end" fill="#000"  stroke="#000" stroke-width="0.35">80</text></g><g transform="translate(118.9 1132.5) scale(1 1.06)"><text x="0" y="0" font-size="36.6" text-anchor="middle" fill="#000"  stroke="#000" stroke-width="0.35">-15</text></g><g transform="translate(184.2 1132.5) scale(1 1.06)"><text x="0" y="0" font-size="36.6" text-anchor="middle" fill="#000"  stroke="#000" stroke-width="0.35">-10</text></g><g transform="translate(249.5 1132.5) scale(1 1.06)"><text x="0" y="0" font-size="36.6" text-anchor="middle" fill="#000"  stroke="#000" stroke-width="0.35">-5</text></g><g transform="translate(314.3 1132.5) scale(1 1.06)"><text x="0" y="0" font-size="36.6" text-anchor="middle" fill="#000"  stroke="#000" stroke-width="0.35">0</text></g><g transform="translate(379.6 1132.5) scale(1 1.06)"><text x="0" y="0" font-size="36.6" text-anchor="middle" fill="#000"  stroke="#000" stroke-width="0.35">5</text></g><g transform="translate(446.9 1132.5) scale(1 1.06)"><text x="0" y="0" font-size="36.6" text-anchor="middle" fill="#000"  stroke="#000" stroke-width="0.35">10</text></g><g transform="translate(510.2 1132.5) scale(1 1.06)"><text x="0" y="0" font-size="36.6" text-anchor="middle" fill="#000"  stroke="#000" stroke-width="0.35">15</text></g><g transform="translate(330.1 1179.8) scale(1 1.05)"><text x="0" y="0" font-size="35.9" text-anchor="middle" fill="#000"  stroke="#000" stroke-width="0.35">Pulse Delay (ps)</text></g><g transform="translate(31.1 938.8) rotate(-90) scale(1 1.06)"><text x="0" y="0" font-size="36.6" text-anchor="middle" fill="#000" stroke="#000" stroke-width="0.35">Relative PL Intensity (%)</text></g><clipPath id="clipe"><rect x="651.5" y="762.2" width="445" height="314.2"/></clipPath><g clip-path="url(#clipe)"><circle cx="664.3" cy="888.2" r="7.2" fill="#38ae6c"/><circle cx="659.2" cy="911.7" r="7.2" fill="#38ae6c"/><circle cx="677.6" cy="924" r="7.2" fill="#38ae6c"/><circle cx="685.8" cy="908.6" r="7.2" fill="#38ae6c"/><circle cx="692.9" cy="887.2" r="7.2" fill="#38ae6c"/><circle cx="700.1" cy="894.3" r="7.2" fill="#38ae6c"/><circle cx="708.3" cy="898.4" r="7.2" fill="#38ae6c"/><circle cx="714.4" cy="902.5" r="7.2" fill="#38ae6c"/><circle cx="720.5" cy="891.2" r="7.2" fill="#38ae6c"/><circle cx="727.7" cy="917.8" r="7.2" fill="#38ae6c"/><circle cx="734.8" cy="921.9" r="7.2" fill="#38ae6c"/><circle cx="741" cy="931.1" r="7.2" fill="#38ae6c"/><circle cx="748.1" cy="922.9" r="7.2" fill="#38ae6c"/><circle cx="755.3" cy="910.7" r="7.2" fill="#38ae6c"/><circle cx="762.5" cy="940.3" r="7.2" fill="#38ae6c"/><circle cx="768.6" cy="926" r="7.2" fill="#38ae6c"/><circle cx="776.8" cy="940.3" r="7.2" fill="#38ae6c"/><circle cx="782.9" cy="935.2" r="7.2" fill="#38ae6c"/><circle cx="790" cy="948.5" r="7.2" fill="#38ae6c"/><circle cx="797.2" cy="941.3" r="7.2" fill="#38ae6c"/><circle cx="804.4" cy="954.6" r="7.2" fill="#38ae6c"/><circle cx="811.5" cy="952.6" r="7.2" fill="#38ae6c"/><circle cx="818.7" cy="966.9" r="7.2" fill="#38ae6c"/><circle cx="824.8" cy="953.6" r="7.2" fill="#38ae6c"/><circle cx="832" cy="976.1" r="7.2" fill="#38ae6c"/><circle cx="838.1" cy="982.2" r="7.2" fill="#38ae6c"/><circle cx="845.3" cy="990.4" r="7.2" fill="#38ae6c"/><circle cx="853.4" cy="996.5" r="7.2" fill="#38ae6c"/><circle cx="859.6" cy="1012.9" r="7.2" fill="#38ae6c"/><circle cx="866.7" cy="1032.3" r="7.2" fill="#38ae6c"/><circle cx="873.9" cy="1037.9" r="7.2" fill="#38ae6c"/><circle cx="882.4" cy="1032.5" r="7.2" fill="#38ae6c"/><circle cx="887.7" cy="1013.3" r="7.2" fill="#38ae6c"/><circle cx="894.1" cy="996.3" r="7.2" fill="#38ae6c"/><circle cx="901.6" cy="990.9" r="7.2" fill="#38ae6c"/><circle cx="909.1" cy="982.4" r="7.2" fill="#38ae6c"/><circle cx="916.5" cy="977.1" r="7.2" fill="#38ae6c"/><circle cx="922.9" cy="953.6" r="7.2" fill="#38ae6c"/><circle cx="930.4" cy="966.4" r="7.2" fill="#38ae6c"/><circle cx="936.8" cy="951.5" r="7.2" fill="#38ae6c"/><circle cx="944.3" cy="953.6" r="7.2" fill="#38ae6c"/><circle cx="950.7" cy="940.8" r="7.2" fill="#38ae6c"/><circle cx="958.1" cy="948.3" r="7.2" fill="#38ae6c"/><circle cx="965.6" cy="936.5" r="7.2" fill="#38ae6c"/><circle cx="970.9" cy="939.7" r="7.2" fill="#38ae6c"/><circle cx="978.4" cy="925.9" r="7.2" fill="#38ae6c"/><circle cx="985.9" cy="940.8" r="7.2" fill="#38ae6c"/><circle cx="992.3" cy="910.9" r="7.2" fill="#38ae6c"/><circle cx="999.7" cy="921.6" r="7.2" fill="#38ae6c"/><circle cx="1007.2" cy="930.1" r="7.2" fill="#38ae6c"/><circle cx="1013.6" cy="922.7" r="7.2" fill="#38ae6c"/><circle cx="1020" cy="917.3" r="7.2" fill="#38ae6c"/><circle cx="1028.5" cy="890.7" r="7.2" fill="#38ae6c"/><circle cx="1034.9" cy="902.4" r="7.2" fill="#38ae6c"/><circle cx="1042.4" cy="898.1" r="7.2" fill="#38ae6c"/><circle cx="1049.9" cy="894.9" r="7.2" fill="#38ae6c"/><circle cx="1055.2" cy="886.4" r="7.2" fill="#38ae6c"/><circle cx="1061.6" cy="907.7" r="7.2" fill="#38ae6c"/><circle cx="1070.1" cy="923.7" r="7.2" fill="#38ae6c"/><circle cx="1084" cy="888.5" r="7.2" fill="#38ae6c"/><circle cx="1088.3" cy="912" r="7.2" fill="#38ae6c"/><circle cx="1076.5" cy="865.3" r="7.2" fill="#38ae6c"/><circle cx="671.5" cy="865.3" r="7.2" fill="#38ae6c"/><circle cx="654" cy="870" r="7.2" fill="#38ae6c"/><polyline points="640,889 640.54,889.16 640.82,889.23 641.83,889.53 644.56,890.35 650,892 659.63,894.94 672.78,898.97 687.26,903.4 700.83,907.54 711.3,910.7 717.85,912.56 721.95,913.58 724.82,914.24 727.7,915.02 731.8,916.4 737.34,918.5 743.5,921.01 749.96,923.74 756.4,926.5 762.5,929.1 768.27,931.49 773.92,933.79 779.43,936.08 784.8,938.46 790,941 795.08,943.75 800.07,946.66 804.87,949.64 809.4,952.65 813.6,955.6 817.38,958.46 820.78,961.28 823.94,964.11 826.98,967 830,970 833.07,973.2 836.1,976.56 839.01,979.95 841.74,983.24 844.2,986.3 846.29,989 848.07,991.43 849.68,993.78 851.28,996.24 853,999 854.94,1002.19 856.98,1005.68 859.02,1009.28 860.94,1012.79 862.6,1016 863.94,1018.86 865.04,1021.51 866.01,1024.03 866.96,1026.5 868,1029 869.16,1031.88 870.36,1035.09 871.57,1038.11 872.76,1040.42 873.9,1041.5 874.97,1041 876,1039.26 877.01,1036.82 878,1034.22 879,1032 880.03,1030.13 881.07,1028.24 882.1,1026.4 883.08,1024.63 884,1023 884.69,1021.8 885.16,1020.99 885.66,1020.13 886.43,1018.78 887.7,1016.5 889.61,1012.94 892.02,1008.39 894.69,1003.37 897.42,998.4 900,994 902.42,990.22 904.82,986.71 907.21,983.39 909.6,980.18 912,977 914.26,973.89 916.37,970.9 918.55,967.98 921.02,965.03 924,962 927.61,958.78 931.72,955.41 936.12,952.05 940.61,948.86 945,946 949.22,943.55 953.41,941.4 957.66,939.44 962.05,937.51 966.7,935.5 971.65,933.37 976.86,931.21 982.21,929.07 987.62,926.98 993,925 998.24,923.22 1003.41,921.61 1008.66,920.02 1014.14,918.3 1020,916.3 1026.16,913.96 1032.52,911.39 1039.2,908.66 1046.32,905.87 1054,903.1 1063.17,900.11 1073.74,896.85 1084.34,893.67 1093.55,890.93 1100,889" fill="none" stroke="#38ae6c" stroke-width="4.3" stroke-linejoin="round" stroke-linecap="butt"/><circle cx="675.5" cy="766" r="6.75" fill="none" stroke="#38ae6c" stroke-width="3.3"/><circle cx="705.2" cy="768.2" r="6.75" fill="none" stroke="#38ae6c" stroke-width="3.3"/><circle cx="719.5" cy="776.4" r="6.75" fill="none" stroke="#38ae6c" stroke-width="3.3"/><circle cx="726.7" cy="783.5" r="6.75" fill="none" stroke="#38ae6c" stroke-width="3.3"/><circle cx="711.3" cy="804" r="6.75" fill="none" stroke="#38ae6c" stroke-width="3.3"/><circle cx="660.2" cy="811.1" r="6.75" fill="none" stroke="#38ae6c" stroke-width="3.3"/><circle cx="654.1" cy="848.9" r="6.75" fill="none" stroke="#38ae6c" stroke-width="3.3"/><circle cx="677.6" cy="825.4" r="6.75" fill="none" stroke="#38ae6c" stroke-width="3.3"/><circle cx="748.1" cy="815.2" r="6.75" fill="none" stroke="#38ae6c" stroke-width="3.3"/><circle cx="768.6" cy="830.5" r="6.75" fill="none" stroke="#38ae6c" stroke-width="3.3"/><circle cx="754.3" cy="848.3" r="6.75" fill="none" stroke="#38ae6c" stroke-width="3.3"/><circle cx="781.9" cy="848.3" r="6.75" fill="none" stroke="#38ae6c" stroke-width="3.3"/><circle cx="790" cy="843.8" r="6.75" fill="none" stroke="#38ae6c" stroke-width="3.3"/><circle cx="796.2" cy="852" r="6.75" fill="none" stroke="#38ae6c" stroke-width="3.3"/><circle cx="810.5" cy="853" r="6.75" fill="none" stroke="#38ae6c" stroke-width="3.3"/><circle cx="803.3" cy="798.8" r="6.75" fill="none" stroke="#38ae6c" stroke-width="3.3"/><circle cx="823.8" cy="820.3" r="6.75" fill="none" stroke="#38ae6c" stroke-width="3.3"/><circle cx="838.1" cy="832.6" r="6.75" fill="none" stroke="#38ae6c" stroke-width="3.3"/><circle cx="845.3" cy="826.4" r="6.75" fill="none" stroke="#38ae6c" stroke-width="3.3"/><circle cx="774.7" cy="764.1" r="6.75" fill="none" stroke="#38ae6c" stroke-width="3.3"/><circle cx="850.4" cy="877.6" r="6.75" fill="none" stroke="#38ae6c" stroke-width="3.3"/><circle cx="860.6" cy="886.8" r="6.75" fill="none" stroke="#38ae6c" stroke-width="3.3"/><circle cx="866.7" cy="947.5" r="6.75" fill="none" stroke="#38ae6c" stroke-width="3.3"/><circle cx="871.8" cy="973" r="6.75" fill="none" stroke="#38ae6c" stroke-width="3.3"/><circle cx="900.7" cy="773.3" r="6.75" fill="none" stroke="#38ae6c" stroke-width="3.3"/><circle cx="991.7" cy="778.4" r="6.75" fill="none" stroke="#38ae6c" stroke-width="3.3"/><circle cx="1046.9" cy="770.2" r="6.75" fill="none" stroke="#38ae6c" stroke-width="3.3"/><circle cx="1068.3" cy="766.1" r="6.75" fill="none" stroke="#38ae6c" stroke-width="3.3"/><circle cx="1089.8" cy="797.8" r="6.75" fill="none" stroke="#38ae6c" stroke-width="3.3"/><circle cx="1092.9" cy="825.4" r="6.75" fill="none" stroke="#38ae6c" stroke-width="3.3"/><circle cx="907.8" cy="809.1" r="6.75" fill="none" stroke="#38ae6c" stroke-width="3.3"/><circle cx="915" cy="808" r="6.75" fill="none" stroke="#38ae6c" stroke-width="3.3"/><circle cx="929.3" cy="798.8" r="6.75" fill="none" stroke="#38ae6c" stroke-width="3.3"/><circle cx="941.6" cy="796.8" r="6.75" fill="none" stroke="#38ae6c" stroke-width="3.3"/><circle cx="1026.4" cy="815.2" r="6.75" fill="none" stroke="#38ae6c" stroke-width="3.3"/><circle cx="1040.7" cy="817.2" r="6.75" fill="none" stroke="#38ae6c" stroke-width="3.3"/><circle cx="1061.2" cy="833.6" r="6.75" fill="none" stroke="#38ae6c" stroke-width="3.3"/><circle cx="1074.5" cy="835.6" r="6.75" fill="none" stroke="#38ae6c" stroke-width="3.3"/><circle cx="935.4" cy="844.8" r="6.75" fill="none" stroke="#38ae6c" stroke-width="3.3"/><circle cx="950.8" cy="844.8" r="6.75" fill="none" stroke="#38ae6c" stroke-width="3.3"/><circle cx="956.9" cy="856.1" r="6.75" fill="none" stroke="#38ae6c" stroke-width="3.3"/><circle cx="964" cy="855.1" r="6.75" fill="none" stroke="#38ae6c" stroke-width="3.3"/><circle cx="978.4" cy="842.8" r="6.75" fill="none" stroke="#38ae6c" stroke-width="3.3"/><circle cx="998.8" cy="859.2" r="6.75" fill="none" stroke="#38ae6c" stroke-width="3.3"/><circle cx="887.7" cy="885.3" r="6.75" fill="none" stroke="#38ae6c" stroke-width="3.3"/><circle cx="894.1" cy="914.1" r="6.75" fill="none" stroke="#38ae6c" stroke-width="3.3"/><circle cx="866.4" cy="948.3" r="6.75" fill="none" stroke="#38ae6c" stroke-width="3.3"/><circle cx="880.3" cy="961.1" r="6.75" fill="none" stroke="#38ae6c" stroke-width="3.3"/><circle cx="873.9" cy="973.9" r="6.75" fill="none" stroke="#38ae6c" stroke-width="3.3"/><polyline points="640,759 641.34,759.3 642.9,759.65 645.19,760.15 648.72,760.9 654,762 661.82,763.52 671.84,765.4 682.87,767.52 693.75,769.76 703.3,772 711.58,774.38 719.38,776.98 726.6,779.59 733.14,782 738.9,784 743.6,785.47 747.31,786.55 750.44,787.43 753.43,788.28 756.7,789.3 760.24,790.5 763.78,791.75 767.32,793.04 770.86,794.33 774.4,795.6 777.95,796.83 781.51,798.04 785.08,799.26 788.64,800.5 792.2,801.8 795.87,803.21 799.66,804.7 803.39,806.21 806.89,807.64 810,808.9 812.6,809.92 814.8,810.77 816.77,811.54 818.68,812.35 820.7,813.3 822.89,814.4 825.13,815.59 827.35,816.84 829.43,818.15 831.3,819.5 832.92,820.88 834.34,822.29 835.63,823.76 836.83,825.32 838,827 839.12,828.81 840.17,830.72 841.15,832.74 842.09,834.83 843,837 843.87,839.26 844.7,841.61 845.48,844.03 846.25,846.5 847,849 847.74,851.55 848.46,854.18 849.16,856.82 849.84,859.45 850.5,862 851.13,864.43 851.74,866.78 852.32,869.1 852.91,871.49 853.5,874 854.1,876.66 854.7,879.41 855.3,882.23 855.9,885.1 856.5,888 857.1,890.94 857.7,893.93 858.29,896.95 858.89,899.98 859.5,903 860.12,905.97 860.74,908.9 861.37,911.86 861.99,914.87 862.6,918 863.19,921.22 863.76,924.51 864.32,927.89 864.9,931.38 865.5,935 866.14,938.89 866.82,943.02 867.5,947.22 868.17,951.27 868.8,955 869.38,958.38 869.94,961.55 870.47,964.53 870.99,967.34 871.5,970 872,972.87 872.47,975.94 872.94,978.66 873.41,980.53 873.9,981 874.41,979.66 874.93,976.87 875.46,973.25 875.98,969.42 876.5,966 877.01,963.03 877.51,960.1 878,957.14 878.5,954.13 879,951 879.5,947.74 880,944.39 880.5,940.97 881,937.5 881.5,934 881.99,930.46 882.48,926.87 882.96,923.25 883.47,919.62 884,916 884.56,912.42 885.14,908.85 885.74,905.27 886.36,901.66 887,898 887.66,894.22 888.34,890.33 889.04,886.43 889.76,882.62 890.5,879 891.2,875.72 891.86,872.72 892.57,869.76 893.42,866.6 894.5,863 895.81,858.77 897.28,854.06 898.92,849.18 900.73,844.39 902.7,840 904.67,836.05 906.64,832.34 908.85,828.82 911.56,825.39 915,822 919.56,818.51 925.09,814.97 930.99,811.58 936.69,808.52 941.6,806 945.2,804.25 947.88,803.15 950.42,802.33 953.6,801.43 958.2,800.1 964.58,798.28 972.22,796.22 980.58,793.99 989.12,791.66 997.3,789.3 1005.56,786.74 1014.25,783.93 1022.73,781.14 1030.33,778.61 1036.4,776.6 1040.26,775.32 1042.34,774.59 1043.67,774.11 1045.28,773.58 1048.2,772.7 1052.73,771.39 1058.18,769.86 1064.11,768.21 1070.06,766.56 1075.6,765 1081.06,763.44 1086.75,761.81 1092.14,760.26 1096.73,758.94 1100,758" fill="none" stroke="#38ae6c" stroke-width="4.3" stroke-linejoin="round" stroke-linecap="butt"/></g><g transform="translate(817.5 826.5) scale(1 1.05)"><text x="0" y="0" font-size="36.6" stroke="#000" stroke-width="0.35">0.83ps</text></g><g transform="translate(872 863.3) scale(1 1.05)"><text x="0" y="0" font-size="36.6" text-anchor="middle" stroke="#000" stroke-width="0.35">(X)</text></g><g transform="translate(680.5 997.4) scale(1 1.05)"><text x="0" y="0" font-size="36.6" stroke="#000" stroke-width="0.35">1.90<tspan font-size="12"> </tspan>ps</text></g><g transform="translate(736 1043.1) scale(1 1.05)"><text x="0" y="0" font-size="36.6" text-anchor="middle" stroke="#000" stroke-width="0.35">(CX)</text></g><g transform="translate(922.8 1031.3) scale(1 1.05)"><text x="0" y="0" font-size="36.6" stroke="#000" stroke-width="0.35">F<tspan font-size="24.5" dy="9.5">p</tspan><tspan dy="-9.5" font-size="12"> </tspan>=<tspan font-size="12"> </tspan>0.27</text></g><rect x="651.5" y="762.2" width="445" height="314.2" fill="none" stroke="#000" stroke-width="4.4" stroke-linejoin="miter"/><line x1="678.25" y1="1076.4" x2="678.25" y2="1053.1" stroke="#000" stroke-width="4.4" stroke-linecap="butt"/><line x1="678.25" y1="762.2" x2="678.25" y2="785.5" stroke="#000" stroke-width="4.4" stroke-linecap="butt"/><line x1="743.55" y1="1076.4" x2="743.55" y2="1053.1" stroke="#000" stroke-width="4.4" stroke-linecap="butt"/><line x1="743.55" y1="762.2" x2="743.55" y2="785.5" stroke="#000" stroke-width="4.4" stroke-linecap="butt"/><line x1="808.85" y1="1076.4" x2="808.85" y2="1053.1" stroke="#000" stroke-width="4.4" stroke-linecap="butt"/><line x1="808.85" y1="762.2" x2="808.85" y2="785.5" stroke="#000" stroke-width="4.4" stroke-linecap="butt"/><line x1="874.15" y1="1076.4" x2="874.15" y2="1053.1" stroke="#000" stroke-width="4.4" stroke-linecap="butt"/><line x1="874.15" y1="762.2" x2="874.15" y2="785.5" stroke="#000" stroke-width="4.4" stroke-linecap="butt"/><line x1="939.45" y1="1076.4" x2="939.45" y2="1053.1" stroke="#000" stroke-width="4.4" stroke-linecap="butt"/><line x1="939.45" y1="762.2" x2="939.45" y2="785.5" stroke="#000" stroke-width="4.4" stroke-linecap="butt"/><line x1="1004.75" y1="1076.4" x2="1004.75" y2="1053.1" stroke="#000" stroke-width="4.4" stroke-linecap="butt"/><line x1="1004.75" y1="762.2" x2="1004.75" y2="785.5" stroke="#000" stroke-width="4.4" stroke-linecap="butt"/><line x1="1070.05" y1="1076.4" x2="1070.05" y2="1053.1" stroke="#000" stroke-width="4.4" stroke-linecap="butt"/><line x1="1070.05" y1="762.2" x2="1070.05" y2="785.5" stroke="#000" stroke-width="4.4" stroke-linecap="butt"/><line x1="710.9" y1="1076.4" x2="710.9" y2="1064.2" stroke="#000" stroke-width="4.4" stroke-linecap="butt"/><line x1="710.9" y1="762.2" x2="710.9" y2="774.4" stroke="#000" stroke-width="4.4" stroke-linecap="butt"/><line x1="776.2" y1="1076.4" x2="776.2" y2="1064.2" stroke="#000" stroke-width="4.4" stroke-linecap="butt"/><line x1="776.2" y1="762.2" x2="776.2" y2="774.4" stroke="#000" stroke-width="4.4" stroke-linecap="butt"/><line x1="841.5" y1="1076.4" x2="841.5" y2="1064.2" stroke="#000" stroke-width="4.4" stroke-linecap="butt"/><line x1="841.5" y1="762.2" x2="841.5" y2="774.4" stroke="#000" stroke-width="4.4" stroke-linecap="butt"/><line x1="906.8" y1="1076.4" x2="906.8" y2="1064.2" stroke="#000" stroke-width="4.4" stroke-linecap="butt"/><line x1="906.8" y1="762.2" x2="906.8" y2="774.4" stroke="#000" stroke-width="4.4" stroke-linecap="butt"/><line x1="972.1" y1="1076.4" x2="972.1" y2="1064.2" stroke="#000" stroke-width="4.4" stroke-linecap="butt"/><line x1="972.1" y1="762.2" x2="972.1" y2="774.4" stroke="#000" stroke-width="4.4" stroke-linecap="butt"/><line x1="1037.4" y1="1076.4" x2="1037.4" y2="1064.2" stroke="#000" stroke-width="4.4" stroke-linecap="butt"/><line x1="1037.4" y1="762.2" x2="1037.4" y2="774.4" stroke="#000" stroke-width="4.4" stroke-linecap="butt"/><line x1="651.5" y1="803.51" x2="674.8" y2="803.51" stroke="#000" stroke-width="4.4" stroke-linecap="butt"/><line x1="1096.5" y1="803.51" x2="1073.2" y2="803.51" stroke="#000" stroke-width="4.4" stroke-linecap="butt"/><line x1="651.5" y1="888.39" x2="674.8" y2="888.39" stroke="#000" stroke-width="4.4" stroke-linecap="butt"/><line x1="1096.5" y1="888.39" x2="1073.2" y2="888.39" stroke="#000" stroke-width="4.4" stroke-linecap="butt"/><line x1="651.5" y1="952.6" x2="674.8" y2="952.6" stroke="#000" stroke-width="4.4" stroke-linecap="butt"/><line x1="1096.5" y1="952.6" x2="1073.2" y2="952.6" stroke="#000" stroke-width="4.4" stroke-linecap="butt"/><line x1="651.5" y1="1016.81" x2="674.8" y2="1016.81" stroke="#000" stroke-width="4.4" stroke-linecap="butt"/><line x1="1096.5" y1="1016.81" x2="1073.2" y2="1016.81" stroke="#000" stroke-width="4.4" stroke-linecap="butt"/><line x1="651.5" y1="841.07" x2="663.7" y2="841.07" stroke="#000" stroke-width="4.4" stroke-linecap="butt"/><line x1="1096.5" y1="841.07" x2="1084.3" y2="841.07" stroke="#000" stroke-width="4.4" stroke-linecap="butt"/><line x1="651.5" y1="867.72" x2="663.7" y2="867.72" stroke="#000" stroke-width="4.4" stroke-linecap="butt"/><line x1="1096.5" y1="867.72" x2="1084.3" y2="867.72" stroke="#000" stroke-width="4.4" stroke-linecap="butt"/><line x1="651.5" y1="905.28" x2="663.7" y2="905.28" stroke="#000" stroke-width="4.4" stroke-linecap="butt"/><line x1="1096.5" y1="905.28" x2="1084.3" y2="905.28" stroke="#000" stroke-width="4.4" stroke-linecap="butt"/><line x1="651.5" y1="919.56" x2="663.7" y2="919.56" stroke="#000" stroke-width="4.4" stroke-linecap="butt"/><line x1="1096.5" y1="919.56" x2="1084.3" y2="919.56" stroke="#000" stroke-width="4.4" stroke-linecap="butt"/><line x1="651.5" y1="931.93" x2="663.7" y2="931.93" stroke="#000" stroke-width="4.4" stroke-linecap="butt"/><line x1="1096.5" y1="931.93" x2="1084.3" y2="931.93" stroke="#000" stroke-width="4.4" stroke-linecap="butt"/><line x1="651.5" y1="942.84" x2="663.7" y2="942.84" stroke="#000" stroke-width="4.4" stroke-linecap="butt"/><line x1="1096.5" y1="942.84" x2="1084.3" y2="942.84" stroke="#000" stroke-width="4.4" stroke-linecap="butt"/><line x1="651.5" y1="990.16" x2="663.7" y2="990.16" stroke="#000" stroke-width="4.4" stroke-linecap="butt"/><line x1="1096.5" y1="990.16" x2="1084.3" y2="990.16" stroke="#000" stroke-width="4.4" stroke-linecap="butt"/><line x1="651.5" y1="1037.48" x2="663.7" y2="1037.48" stroke="#000" stroke-width="4.4" stroke-linecap="butt"/><line x1="1096.5" y1="1037.48" x2="1084.3" y2="1037.48" stroke="#000" stroke-width="4.4" stroke-linecap="butt"/><rect x="663.8" y="774.4" width="50.9" height="54.1" fill="#fff" stroke="#000" stroke-width="4.3"/><g transform="translate(689.25 812.5) scale(1 1.0)"><text x="0" y="0" font-size="36.6" text-anchor="middle" fill="#000"  stroke="#000" stroke-width="0.35">(e)</text></g><g transform="translate(639.1 814.51) scale(1 1.06)"><text x="0" y="0" font-size="36.6" text-anchor="end" fill="#000"  stroke="#000" stroke-width="0.35">98</text></g><g transform="translate(639.1 899.39) scale(1 1.06)"><text x="0" y="0" font-size="36.6" text-anchor="end" fill="#000"  stroke="#000" stroke-width="0.35">95</text></g><g transform="translate(639.1 963.6) scale(1 1.06)"><text x="0" y="0" font-size="36.6" text-anchor="end" fill="#000"  stroke="#000" stroke-width="0.35">90</text></g><g transform="translate(639.1 1027.81) scale(1 1.06)"><text x="0" y="0" font-size="36.6" text-anchor="end" fill="#000"  stroke="#000" stroke-width="0.35">80</text></g><g transform="translate(678.75 1132.6) scale(1 1.06)"><text x="0" y="0" font-size="36.6" text-anchor="middle" fill="#000"  stroke="#000" stroke-width="0.35">-15</text></g><g transform="translate(744.05 1132.6) scale(1 1.06)"><text x="0" y="0" font-size="36.6" text-anchor="middle" fill="#000"  stroke="#000" stroke-width="0.35">-10</text></g><g transform="translate(809.35 1132.6) scale(1 1.06)"><text x="0" y="0" font-size="36.6" text-anchor="middle" fill="#000"  stroke="#000" stroke-width="0.35">-5</text></g><g transform="translate(874.15 1132.6) scale(1 1.06)"><text x="0" y="0" font-size="36.6" text-anchor="middle" fill="#000"  stroke="#000" stroke-width="0.35">0</text></g><g transform="translate(939.45 1132.6) scale(1 1.06)"><text x="0" y="0" font-size="36.6" text-anchor="middle" fill="#000"  stroke="#000" stroke-width="0.35">5</text></g><g transform="translate(1006.75 1132.6) scale(1 1.06)"><text x="0" y="0" font-size="36.6" text-anchor="middle" fill="#000"  stroke="#000" stroke-width="0.35">10</text></g><g transform="translate(1070.05 1132.6) scale(1 1.06)"><text x="0" y="0" font-size="36.6" text-anchor="middle" fill="#000"  stroke="#000" stroke-width="0.35">15</text></g><g transform="translate(889.95 1179.9) scale(1 1.05)"><text x="0" y="0" font-size="35.9" text-anchor="middle" fill="#000"  stroke="#000" stroke-width="0.35">Pulse Delay (ps)</text></g><g transform="translate(588.5 938.8) rotate(-90) scale(1 1.06)"><text x="0" y="0" font-size="36.6" text-anchor="middle" fill="#000" stroke="#000" stroke-width="0.35">Relative PL Intensity (%)</text></g><clipPath id="clipf"><rect x="91.8" y="1220.4" width="444.8" height="314.3"/></clipPath><g clip-path="url(#clipf)"><circle cx="98.2" cy="1342.7" r="7.2" fill="#1b72e0"/><circle cx="112.5" cy="1341.7" r="7.2" fill="#1b72e0"/><circle cx="119.6" cy="1362.5" r="7.2" fill="#1b72e0"/><circle cx="125.8" cy="1338.6" r="7.2" fill="#1b72e0"/><circle cx="130.9" cy="1344.1" r="7.2" fill="#1b72e0"/><circle cx="141.1" cy="1352.3" r="7.2" fill="#1b72e0"/><circle cx="147.2" cy="1371.7" r="7.2" fill="#1b72e0"/><circle cx="153.4" cy="1362.5" r="7.2" fill="#1b72e0"/><circle cx="160.5" cy="1386" r="7.2" fill="#1b72e0"/><circle cx="167.7" cy="1369.6" r="7.2" fill="#1b72e0"/><circle cx="174.8" cy="1353.3" r="7.2" fill="#1b72e0"/><circle cx="181" cy="1378.8" r="7.2" fill="#1b72e0"/><circle cx="189.2" cy="1374.8" r="7.2" fill="#1b72e0"/><circle cx="196.3" cy="1380.9" r="7.2" fill="#1b72e0"/><circle cx="202.5" cy="1375.8" r="7.2" fill="#1b72e0"/><circle cx="210.6" cy="1378.8" r="7.2" fill="#1b72e0"/><circle cx="216.8" cy="1390.1" r="7.2" fill="#1b72e0"/><circle cx="223.9" cy="1386" r="7.2" fill="#1b72e0"/><circle cx="231.1" cy="1394.2" r="7.2" fill="#1b72e0"/><circle cx="238.2" cy="1408.5" r="7.2" fill="#1b72e0"/><circle cx="245.4" cy="1414.6" r="7.2" fill="#1b72e0"/><circle cx="251.5" cy="1420.8" r="7.2" fill="#1b72e0"/><circle cx="259.7" cy="1416.7" r="7.2" fill="#1b72e0"/><circle cx="265.8" cy="1421.8" r="7.2" fill="#1b72e0"/><circle cx="272" cy="1435.1" r="7.2" fill="#1b72e0"/><circle cx="280.1" cy="1438.1" r="7.2" fill="#1b72e0"/><circle cx="286.3" cy="1451.4" r="7.2" fill="#1b72e0"/><circle cx="292.4" cy="1457.6" r="7.2" fill="#1b72e0"/><circle cx="301.6" cy="1462.7" r="7.2" fill="#1b72e0"/><circle cx="307.5" cy="1481.9" r="7.2" fill="#1b72e0"/><circle cx="313.9" cy="1490.4" r="7.2" fill="#1b72e0"/><circle cx="321.3" cy="1480.8" r="7.2" fill="#1b72e0"/><circle cx="327.7" cy="1460.5" r="7.2" fill="#1b72e0"/><circle cx="335.2" cy="1457.3" r="7.2" fill="#1b72e0"/><circle cx="341.6" cy="1448.8" r="7.2" fill="#1b72e0"/><circle cx="349.1" cy="1436" r="7.2" fill="#1b72e0"/><circle cx="356.5" cy="1432.8" r="7.2" fill="#1b72e0"/><circle cx="362.9" cy="1421.1" r="7.2" fill="#1b72e0"/><circle cx="370.4" cy="1414.7" r="7.2" fill="#1b72e0"/><circle cx="376.8" cy="1420" r="7.2" fill="#1b72e0"/><circle cx="384.3" cy="1413.6" r="7.2" fill="#1b72e0"/><circle cx="391.7" cy="1404" r="7.2" fill="#1b72e0"/><circle cx="398.1" cy="1392.3" r="7.2" fill="#1b72e0"/><circle cx="404.5" cy="1383.7" r="7.2" fill="#1b72e0"/><circle cx="410.9" cy="1391.2" r="7.2" fill="#1b72e0"/><circle cx="418.4" cy="1374.1" r="7.2" fill="#1b72e0"/><circle cx="425.9" cy="1379.5" r="7.2" fill="#1b72e0"/><circle cx="433.3" cy="1380.5" r="7.2" fill="#1b72e0"/><circle cx="440.8" cy="1378.4" r="7.2" fill="#1b72e0"/><circle cx="448.3" cy="1376.3" r="7.2" fill="#1b72e0"/><circle cx="453.6" cy="1351.7" r="7.2" fill="#1b72e0"/><circle cx="461.1" cy="1372" r="7.2" fill="#1b72e0"/><circle cx="468.5" cy="1386.9" r="7.2" fill="#1b72e0"/><circle cx="474.9" cy="1360.3" r="7.2" fill="#1b72e0"/><circle cx="482.4" cy="1369.9" r="7.2" fill="#1b72e0"/><circle cx="487.7" cy="1350.7" r="7.2" fill="#1b72e0"/><circle cx="496.3" cy="1348.5" r="7.2" fill="#1b72e0"/><circle cx="502.7" cy="1345.3" r="7.2" fill="#1b72e0"/><circle cx="510.1" cy="1362.4" r="7.2" fill="#1b72e0"/><circle cx="516.5" cy="1340.7" r="7.2" fill="#1b72e0"/><circle cx="524" cy="1342.1" r="7.2" fill="#1b72e0"/><circle cx="530.4" cy="1350.7" r="7.2" fill="#1b72e0"/><polyline points="80,1346 81.2,1346.22 82.64,1346.51 84.69,1346.89 87.69,1347.38 92,1348 98.52,1348.82 107,1349.83 116.12,1350.93 124.53,1352.02 130.9,1353 134.45,1353.73 136.06,1354.27 136.92,1354.85 138.21,1355.68 141.1,1357 146.09,1359.01 152.4,1361.55 159.28,1364.33 165.99,1367.01 171.8,1369.3 176.54,1371.1 180.7,1372.61 184.53,1373.98 188.28,1375.33 192.2,1376.8 196.3,1378.33 200.4,1379.84 204.5,1381.4 208.6,1383.09 212.7,1385 216.78,1387.14 220.84,1389.47 224.91,1391.94 228.99,1394.53 233.1,1397.2 237.26,1399.94 241.47,1402.78 245.68,1405.72 249.87,1408.79 254,1412 258.12,1415.4 262.26,1418.97 266.33,1422.65 270.27,1426.35 274,1430 277.51,1433.59 280.85,1437.16 284.04,1440.74 287.08,1444.35 290,1448 292.84,1451.8 295.58,1455.73 298.17,1459.64 300.53,1463.39 302.6,1466.8 304.29,1469.81 305.65,1472.52 306.8,1475.04 307.88,1477.49 309,1480 310.16,1482.94 311.26,1486.25 312.34,1489.33 313.41,1491.61 314.5,1492.5 315.56,1491.63 316.59,1489.38 317.64,1486.32 318.76,1483 320,1480 321.25,1477.38 322.46,1474.75 323.82,1472.03 325.51,1469.12 327.7,1465.9 330.52,1462.24 333.85,1458.19 337.5,1453.99 341.28,1449.85 345,1446 348.66,1442.56 352.38,1439.39 356.17,1436.29 360.04,1433.09 364,1429.6 368.06,1425.74 372.22,1421.63 376.45,1417.39 380.72,1413.14 385,1409 389.3,1404.79 393.65,1400.42 398.02,1396.18 402.37,1392.31 406.7,1389.1 410.99,1386.69 415.25,1384.9 419.5,1383.51 423.75,1382.28 428,1381 432.21,1379.76 436.38,1378.72 440.56,1377.71 444.85,1376.59 449.3,1375.2 454.06,1373.44 459.09,1371.41 464.16,1369.26 469.07,1367.15 473.6,1365.2 477.23,1363.55 480.11,1362.11 483.01,1360.68 486.71,1359.07 492,1357.1 499.81,1354.5 509.62,1351.41 520.03,1348.2 529.62,1345.27 537,1343 541.86,1341.49 545.13,1340.48 547.27,1339.83 548.74,1339.38 550,1339" fill="none" stroke="#1b72e0" stroke-width="4.3" stroke-linejoin="round" stroke-linecap="butt"/><circle cx="110.4" cy="1222.1" r="6.75" fill="none" stroke="#1b72e0" stroke-width="3.3"/><circle cx="94.1" cy="1271.2" r="6.75" fill="none" stroke="#1b72e0" stroke-width="3.3"/><circle cx="98.2" cy="1296.7" r="6.75" fill="none" stroke="#1b72e0" stroke-width="3.3"/><circle cx="139.1" cy="1291.6" r="6.75" fill="none" stroke="#1b72e0" stroke-width="3.3"/><circle cx="157.5" cy="1266" r="6.75" fill="none" stroke="#1b72e0" stroke-width="3.3"/><circle cx="159.5" cy="1287.5" r="6.75" fill="none" stroke="#1b72e0" stroke-width="3.3"/><circle cx="166.7" cy="1297.7" r="6.75" fill="none" stroke="#1b72e0" stroke-width="3.3"/><circle cx="173.8" cy="1292.6" r="6.75" fill="none" stroke="#1b72e0" stroke-width="3.3"/><circle cx="181" cy="1271.2" r="6.75" fill="none" stroke="#1b72e0" stroke-width="3.3"/><circle cx="188.1" cy="1276.3" r="6.75" fill="none" stroke="#1b72e0" stroke-width="3.3"/><circle cx="208.6" cy="1249.7" r="6.75" fill="none" stroke="#1b72e0" stroke-width="3.3"/><circle cx="215.7" cy="1281.4" r="6.75" fill="none" stroke="#1b72e0" stroke-width="3.3"/><circle cx="194.3" cy="1308" r="6.75" fill="none" stroke="#1b72e0" stroke-width="3.3"/><circle cx="202.5" cy="1313.1" r="6.75" fill="none" stroke="#1b72e0" stroke-width="3.3"/><circle cx="222.9" cy="1303.9" r="6.75" fill="none" stroke="#1b72e0" stroke-width="3.3"/><circle cx="230" cy="1311" r="6.75" fill="none" stroke="#1b72e0" stroke-width="3.3"/><circle cx="237.2" cy="1294.7" r="6.75" fill="none" stroke="#1b72e0" stroke-width="3.3"/><circle cx="257.7" cy="1296.7" r="6.75" fill="none" stroke="#1b72e0" stroke-width="3.3"/><circle cx="264.8" cy="1300.8" r="6.75" fill="none" stroke="#1b72e0" stroke-width="3.3"/><circle cx="251.5" cy="1328.4" r="6.75" fill="none" stroke="#1b72e0" stroke-width="3.3"/><circle cx="244.4" cy="1339.7" r="6.75" fill="none" stroke="#1b72e0" stroke-width="3.3"/><circle cx="270.9" cy="1326.4" r="6.75" fill="none" stroke="#1b72e0" stroke-width="3.3"/><circle cx="278.1" cy="1328.4" r="6.75" fill="none" stroke="#1b72e0" stroke-width="3.3"/><circle cx="284.2" cy="1343.7" r="6.75" fill="none" stroke="#1b72e0" stroke-width="3.3"/><circle cx="292.4" cy="1345.8" r="6.75" fill="none" stroke="#1b72e0" stroke-width="3.3"/><circle cx="300.6" cy="1357" r="6.75" fill="none" stroke="#1b72e0" stroke-width="3.3"/><circle cx="305.7" cy="1402.4" r="6.75" fill="none" stroke="#1b72e0" stroke-width="3.3"/><circle cx="313.9" cy="1440.2" r="6.75" fill="none" stroke="#1b72e0" stroke-width="3.3"/><circle cx="418.4" cy="1244.6" r="6.75" fill="none" stroke="#1b72e0" stroke-width="3.3"/><circle cx="411.2" cy="1275.2" r="6.75" fill="none" stroke="#1b72e0" stroke-width="3.3"/><circle cx="446" cy="1269.1" r="6.75" fill="none" stroke="#1b72e0" stroke-width="3.3"/><circle cx="467.4" cy="1267.1" r="6.75" fill="none" stroke="#1b72e0" stroke-width="3.3"/><circle cx="496.1" cy="1259.9" r="6.75" fill="none" stroke="#1b72e0" stroke-width="3.3"/><circle cx="508.3" cy="1259.9" r="6.75" fill="none" stroke="#1b72e0" stroke-width="3.3"/><circle cx="532.9" cy="1273.2" r="6.75" fill="none" stroke="#1b72e0" stroke-width="3.3"/><circle cx="529.8" cy="1287.5" r="6.75" fill="none" stroke="#1b72e0" stroke-width="3.3"/><circle cx="487.9" cy="1287.5" r="6.75" fill="none" stroke="#1b72e0" stroke-width="3.3"/><circle cx="477.7" cy="1278.3" r="6.75" fill="none" stroke="#1b72e0" stroke-width="3.3"/><circle cx="453.1" cy="1291.6" r="6.75" fill="none" stroke="#1b72e0" stroke-width="3.3"/><circle cx="438.8" cy="1290.6" r="6.75" fill="none" stroke="#1b72e0" stroke-width="3.3"/><circle cx="460.3" cy="1305.9" r="6.75" fill="none" stroke="#1b72e0" stroke-width="3.3"/><circle cx="432.7" cy="1308" r="6.75" fill="none" stroke="#1b72e0" stroke-width="3.3"/><circle cx="424.5" cy="1310" r="6.75" fill="none" stroke="#1b72e0" stroke-width="3.3"/><circle cx="404" cy="1312" r="6.75" fill="none" stroke="#1b72e0" stroke-width="3.3"/><circle cx="395.9" cy="1303.9" r="6.75" fill="none" stroke="#1b72e0" stroke-width="3.3"/><circle cx="389.7" cy="1308" r="6.75" fill="none" stroke="#1b72e0" stroke-width="3.3"/><circle cx="369.3" cy="1294.7" r="6.75" fill="none" stroke="#1b72e0" stroke-width="3.3"/><circle cx="363.2" cy="1301.8" r="6.75" fill="none" stroke="#1b72e0" stroke-width="3.3"/><circle cx="375.4" cy="1326.4" r="6.75" fill="none" stroke="#1b72e0" stroke-width="3.3"/><circle cx="383.6" cy="1337.6" r="6.75" fill="none" stroke="#1b72e0" stroke-width="3.3"/><circle cx="355" cy="1324.3" r="6.75" fill="none" stroke="#1b72e0" stroke-width="3.3"/><circle cx="347.8" cy="1335.6" r="6.75" fill="none" stroke="#1b72e0" stroke-width="3.3"/><circle cx="340.7" cy="1347.8" r="6.75" fill="none" stroke="#1b72e0" stroke-width="3.3"/><circle cx="332.5" cy="1341.7" r="6.75" fill="none" stroke="#1b72e0" stroke-width="3.3"/><circle cx="327.4" cy="1360.1" r="6.75" fill="none" stroke="#1b72e0" stroke-width="3.3"/><circle cx="321.3" cy="1406.1" r="6.75" fill="none" stroke="#1b72e0" stroke-width="3.3"/><circle cx="307.5" cy="1401.9" r="6.75" fill="none" stroke="#1b72e0" stroke-width="3.3"/><circle cx="342.7" cy="1348.5" r="6.75" fill="none" stroke="#1b72e0" stroke-width="3.3"/><circle cx="334.1" cy="1344.3" r="6.75" fill="none" stroke="#1b72e0" stroke-width="3.3"/><polyline points="80,1264 80.74,1264.18 81.27,1264.33 82.63,1264.64 85.86,1265.3 92,1266.5 102.18,1268.31 115.69,1270.61 130.87,1273.28 146.03,1276.22 159.5,1279.3 171.25,1282.72 182.4,1286.55 192.99,1290.51 203.08,1294.32 212.7,1297.7 221.98,1300.62 230.88,1303.27 239.23,1305.68 246.86,1307.91 253.6,1310 259.31,1311.88 264.11,1313.51 268.2,1315.01 271.76,1316.47 275,1318 277.77,1319.53 279.95,1320.98 281.73,1322.47 283.35,1324.11 285,1326 286.67,1328.08 288.21,1330.27 289.66,1332.68 291.04,1335.42 292.4,1338.6 293.75,1342.44 295.08,1346.86 296.35,1351.54 297.5,1356.16 298.5,1360.4 299.3,1364.13 299.91,1367.56 300.43,1370.9 300.94,1374.31 301.5,1378 302.11,1382.03 302.71,1386.28 303.33,1390.65 303.99,1395.02 304.7,1399.3 305.48,1403.49 306.31,1407.65 307.18,1411.78 308.08,1415.9 309,1420 309.97,1424.69 311,1429.96 312.04,1434.91 313.03,1438.63 313.9,1440.2 314.63,1439.01 315.26,1435.68 315.83,1431.11 316.4,1426.24 317,1422 317.64,1418.4 318.29,1414.83 318.94,1411.26 319.61,1407.66 320.3,1404 321.01,1400.24 321.75,1396.39 322.5,1392.53 323.25,1388.71 324,1385 324.73,1381.41 325.45,1377.88 326.18,1374.42 326.92,1371.03 327.7,1367.7 328.51,1364.4 329.34,1361.13 330.2,1357.94 331.09,1354.88 332,1352 332.92,1349.35 333.85,1346.89 334.82,1344.55 335.86,1342.28 337,1340 338.27,1337.69 339.66,1335.38 341.1,1333.14 342.57,1330.99 344,1329 345.29,1327.19 346.46,1325.54 347.7,1323.98 349.15,1322.49 351,1321 353.15,1319.55 355.48,1318.18 358.14,1316.83 361.27,1315.45 365,1314 369.32,1312.52 374.12,1311.04 379.45,1309.5 385.33,1307.81 391.8,1305.9 399.08,1303.72 407.14,1301.33 415.66,1298.79 424.29,1296.18 432.7,1293.6 440.88,1291.02 449.06,1288.39 457.24,1285.73 465.42,1283.06 473.6,1280.4 481.87,1277.7 490.22,1274.93 498.53,1272.19 506.67,1269.56 514.5,1267.1 522.51,1264.71 530.79,1262.34 538.62,1260.16 545.26,1258.32 550,1257" fill="none" stroke="#1b72e0" stroke-width="4.3" stroke-linejoin="round" stroke-linecap="butt"/></g><g transform="translate(263.5 1284.6) scale(1 1.05)"><text x="0" y="0" font-size="36.6" stroke="#000" stroke-width="0.35">0.68<tspan font-size="12"> </tspan>ps</text></g><g transform="translate(318.6 1328.5) scale(1 1.05)"><text x="0" y="0" font-size="36.6" text-anchor="middle" stroke="#000" stroke-width="0.35">(X)</text></g><g transform="translate(112 1443.9) scale(1 1.05)"><text x="0" y="0" font-size="36.6" stroke="#000" stroke-width="0.35">2.44<tspan font-size="12"> </tspan>ps</text></g><g transform="translate(167.3 1490) scale(1 1.05)"><text x="0" y="0" font-size="36.6" text-anchor="middle" stroke="#000" stroke-width="0.35">(CX)</text></g><g transform="translate(368 1487.7) scale(1 1.05)"><text x="0" y="0" font-size="36.6" stroke="#000" stroke-width="0.35">F<tspan font-size="24.5" dy="9.5">p</tspan><tspan dy="-9.5" font-size="12"> </tspan>=<tspan font-size="12"> </tspan>1.23</text></g><rect x="91.8" y="1220.4" width="444.8" height="314.3" fill="none" stroke="#000" stroke-width="4.4" stroke-linejoin="miter"/><line x1="118.4" y1="1534.7" x2="118.4" y2="1511.4" stroke="#000" stroke-width="4.4" stroke-linecap="butt"/><line x1="118.4" y1="1220.4" x2="118.4" y2="1243.7" stroke="#000" stroke-width="4.4" stroke-linecap="butt"/><line x1="183.7" y1="1534.7" x2="183.7" y2="1511.4" stroke="#000" stroke-width="4.4" stroke-linecap="butt"/><line x1="183.7" y1="1220.4" x2="183.7" y2="1243.7" stroke="#000" stroke-width="4.4" stroke-linecap="butt"/><line x1="249" y1="1534.7" x2="249" y2="1511.4" stroke="#000" stroke-width="4.4" stroke-linecap="butt"/><line x1="249" y1="1220.4" x2="249" y2="1243.7" stroke="#000" stroke-width="4.4" stroke-linecap="butt"/><line x1="314.3" y1="1534.7" x2="314.3" y2="1511.4" stroke="#000" stroke-width="4.4" stroke-linecap="butt"/><line x1="314.3" y1="1220.4" x2="314.3" y2="1243.7" stroke="#000" stroke-width="4.4" stroke-linecap="butt"/><line x1="379.6" y1="1534.7" x2="379.6" y2="1511.4" stroke="#000" stroke-width="4.4" stroke-linecap="butt"/><line x1="379.6" y1="1220.4" x2="379.6" y2="1243.7" stroke="#000" stroke-width="4.4" stroke-linecap="butt"/><line x1="444.9" y1="1534.7" x2="444.9" y2="1511.4" stroke="#000" stroke-width="4.4" stroke-linecap="butt"/><line x1="444.9" y1="1220.4" x2="444.9" y2="1243.7" stroke="#000" stroke-width="4.4" stroke-linecap="butt"/><line x1="510.2" y1="1534.7" x2="510.2" y2="1511.4" stroke="#000" stroke-width="4.4" stroke-linecap="butt"/><line x1="510.2" y1="1220.4" x2="510.2" y2="1243.7" stroke="#000" stroke-width="4.4" stroke-linecap="butt"/><line x1="151.05" y1="1534.7" x2="151.05" y2="1522.5" stroke="#000" stroke-width="4.4" stroke-linecap="butt"/><line x1="151.05" y1="1220.4" x2="151.05" y2="1232.6" stroke="#000" stroke-width="4.4" stroke-linecap="butt"/><line x1="216.35" y1="1534.7" x2="216.35" y2="1522.5" stroke="#000" stroke-width="4.4" stroke-linecap="butt"/><line x1="216.35" y1="1220.4" x2="216.35" y2="1232.6" stroke="#000" stroke-width="4.4" stroke-linecap="butt"/><line x1="281.65" y1="1534.7" x2="281.65" y2="1522.5" stroke="#000" stroke-width="4.4" stroke-linecap="butt"/><line x1="281.65" y1="1220.4" x2="281.65" y2="1232.6" stroke="#000" stroke-width="4.4" stroke-linecap="butt"/><line x1="346.95" y1="1534.7" x2="346.95" y2="1522.5" stroke="#000" stroke-width="4.4" stroke-linecap="butt"/><line x1="346.95" y1="1220.4" x2="346.95" y2="1232.6" stroke="#000" stroke-width="4.4" stroke-linecap="butt"/><line x1="412.25" y1="1534.7" x2="412.25" y2="1522.5" stroke="#000" stroke-width="4.4" stroke-linecap="butt"/><line x1="412.25" y1="1220.4" x2="412.25" y2="1232.6" stroke="#000" stroke-width="4.4" stroke-linecap="butt"/><line x1="477.55" y1="1534.7" x2="477.55" y2="1522.5" stroke="#000" stroke-width="4.4" stroke-linecap="butt"/><line x1="477.55" y1="1220.4" x2="477.55" y2="1232.6" stroke="#000" stroke-width="4.4" stroke-linecap="butt"/><line x1="91.8" y1="1261.71" x2="115.1" y2="1261.71" stroke="#000" stroke-width="4.4" stroke-linecap="butt"/><line x1="536.6" y1="1261.71" x2="513.3" y2="1261.71" stroke="#000" stroke-width="4.4" stroke-linecap="butt"/><line x1="91.8" y1="1346.59" x2="115.1" y2="1346.59" stroke="#000" stroke-width="4.4" stroke-linecap="butt"/><line x1="536.6" y1="1346.59" x2="513.3" y2="1346.59" stroke="#000" stroke-width="4.4" stroke-linecap="butt"/><line x1="91.8" y1="1410.8" x2="115.1" y2="1410.8" stroke="#000" stroke-width="4.4" stroke-linecap="butt"/><line x1="536.6" y1="1410.8" x2="513.3" y2="1410.8" stroke="#000" stroke-width="4.4" stroke-linecap="butt"/><line x1="91.8" y1="1475.01" x2="115.1" y2="1475.01" stroke="#000" stroke-width="4.4" stroke-linecap="butt"/><line x1="536.6" y1="1475.01" x2="513.3" y2="1475.01" stroke="#000" stroke-width="4.4" stroke-linecap="butt"/><line x1="91.8" y1="1299.27" x2="104" y2="1299.27" stroke="#000" stroke-width="4.4" stroke-linecap="butt"/><line x1="536.6" y1="1299.27" x2="524.4" y2="1299.27" stroke="#000" stroke-width="4.4" stroke-linecap="butt"/><line x1="91.8" y1="1325.92" x2="104" y2="1325.92" stroke="#000" stroke-width="4.4" stroke-linecap="butt"/><line x1="536.6" y1="1325.92" x2="524.4" y2="1325.92" stroke="#000" stroke-width="4.4" stroke-linecap="butt"/><line x1="91.8" y1="1363.48" x2="104" y2="1363.48" stroke="#000" stroke-width="4.4" stroke-linecap="butt"/><line x1="536.6" y1="1363.48" x2="524.4" y2="1363.48" stroke="#000" stroke-width="4.4" stroke-linecap="butt"/><line x1="91.8" y1="1377.76" x2="104" y2="1377.76" stroke="#000" stroke-width="4.4" stroke-linecap="butt"/><line x1="536.6" y1="1377.76" x2="524.4" y2="1377.76" stroke="#000" stroke-width="4.4" stroke-linecap="butt"/><line x1="91.8" y1="1390.13" x2="104" y2="1390.13" stroke="#000" stroke-width="4.4" stroke-linecap="butt"/><line x1="536.6" y1="1390.13" x2="524.4" y2="1390.13" stroke="#000" stroke-width="4.4" stroke-linecap="butt"/><line x1="91.8" y1="1401.04" x2="104" y2="1401.04" stroke="#000" stroke-width="4.4" stroke-linecap="butt"/><line x1="536.6" y1="1401.04" x2="524.4" y2="1401.04" stroke="#000" stroke-width="4.4" stroke-linecap="butt"/><line x1="91.8" y1="1448.36" x2="104" y2="1448.36" stroke="#000" stroke-width="4.4" stroke-linecap="butt"/><line x1="536.6" y1="1448.36" x2="524.4" y2="1448.36" stroke="#000" stroke-width="4.4" stroke-linecap="butt"/><line x1="91.8" y1="1495.68" x2="104" y2="1495.68" stroke="#000" stroke-width="4.4" stroke-linecap="butt"/><line x1="536.6" y1="1495.68" x2="524.4" y2="1495.68" stroke="#000" stroke-width="4.4" stroke-linecap="butt"/><rect x="103.1" y="1231.4" width="53.8" height="54" fill="#fff" stroke="#000" stroke-width="4.3"/><g transform="translate(130 1269.4) scale(1 1.0)"><text x="0" y="0" font-size="36.6" text-anchor="middle" fill="#000"  stroke="#000" stroke-width="0.35">(f)</text></g><g transform="translate(79.4 1272.71) scale(1 1.06)"><text x="0" y="0" font-size="36.6" text-anchor="end" fill="#000"  stroke="#000" stroke-width="0.35">98</text></g><g transform="translate(79.4 1357.59) scale(1 1.06)"><text x="0" y="0" font-size="36.6" text-anchor="end" fill="#000"  stroke="#000" stroke-width="0.35">95</text></g><g transform="translate(79.4 1421.8) scale(1 1.06)"><text x="0" y="0" font-size="36.6" text-anchor="end" fill="#000"  stroke="#000" stroke-width="0.35">90</text></g><g transform="translate(79.4 1486.01) scale(1 1.06)"><text x="0" y="0" font-size="36.6" text-anchor="end" fill="#000"  stroke="#000" stroke-width="0.35">80</text></g><g transform="translate(118.9 1590.9) scale(1 1.06)"><text x="0" y="0" font-size="36.6" text-anchor="middle" fill="#000"  stroke="#000" stroke-width="0.35">-15</text></g><g transform="translate(184.2 1590.9) scale(1 1.06)"><text x="0" y="0" font-size="36.6" text-anchor="middle" fill="#000"  stroke="#000" stroke-width="0.35">-10</text></g><g transform="translate(249.5 1590.9) scale(1 1.06)"><text x="0" y="0" font-size="36.6" text-anchor="middle" fill="#000"  stroke="#000" stroke-width="0.35">-5</text></g><g transform="translate(314.3 1590.9) scale(1 1.06)"><text x="0" y="0" font-size="36.6" text-anchor="middle" fill="#000"  stroke="#000" stroke-width="0.35">0</text></g><g transform="translate(379.6 1590.9) scale(1 1.06)"><text x="0" y="0" font-size="36.6" text-anchor="middle" fill="#000"  stroke="#000" stroke-width="0.35">5</text></g><g transform="translate(446.9 1590.9) scale(1 1.06)"><text x="0" y="0" font-size="36.6" text-anchor="middle" fill="#000"  stroke="#000" stroke-width="0.35">10</text></g><g transform="translate(510.2 1590.9) scale(1 1.06)"><text x="0" y="0" font-size="36.6" text-anchor="middle" fill="#000"  stroke="#000" stroke-width="0.35">15</text></g><g transform="translate(330.1 1638.2) scale(1 1.05)"><text x="0" y="0" font-size="35.9" text-anchor="middle" fill="#000"  stroke="#000" stroke-width="0.35">Pulse Delay (ps)</text></g><g transform="translate(31.1 1376.1) rotate(-90) scale(1 1.06)"><text x="0" y="0" font-size="36.6" text-anchor="middle" fill="#000" stroke="#000" stroke-width="0.35">Relative PL Intensity (%)</text></g><clipPath id="clipg"><rect x="651.5" y="1220.6" width="445" height="314.1"/></clipPath><g clip-path="url(#clipg)"><circle cx="654.1" cy="1340.7" r="7.2" fill="#f03e41"/><circle cx="662.3" cy="1353" r="7.2" fill="#f03e41"/><circle cx="670.4" cy="1366.2" r="7.2" fill="#f03e41"/><circle cx="678.6" cy="1362.5" r="7.2" fill="#f03e41"/><circle cx="684.8" cy="1357" r="7.2" fill="#f03e41"/><circle cx="692.9" cy="1365.4" r="7.2" fill="#f03e41"/><circle cx="701.1" cy="1358.8" r="7.2" fill="#f03e41"/><circle cx="706.2" cy="1365.6" r="7.2" fill="#f03e41"/><circle cx="713.4" cy="1371.7" r="7.2" fill="#f03e41"/><circle cx="719.5" cy="1363.2" r="7.2" fill="#f03e41"/><circle cx="727.7" cy="1368.4" r="7.2" fill="#f03e41"/><circle cx="735.9" cy="1372.5" r="7.2" fill="#f03e41"/><circle cx="741" cy="1391.1" r="7.2" fill="#f03e41"/><circle cx="749.2" cy="1381.9" r="7.2" fill="#f03e41"/><circle cx="756.3" cy="1385" r="7.2" fill="#f03e41"/><circle cx="763.5" cy="1382.9" r="7.2" fill="#f03e41"/><circle cx="770.6" cy="1385" r="7.2" fill="#f03e41"/><circle cx="777.8" cy="1391.1" r="7.2" fill="#f03e41"/><circle cx="784.9" cy="1398.3" r="7.2" fill="#f03e41"/><circle cx="791.1" cy="1392.1" r="7.2" fill="#f03e41"/><circle cx="797.2" cy="1407.5" r="7.2" fill="#f03e41"/><circle cx="805.4" cy="1404.4" r="7.2" fill="#f03e41"/><circle cx="811.5" cy="1413.6" r="7.2" fill="#f03e41"/><circle cx="818.7" cy="1417.7" r="7.2" fill="#f03e41"/><circle cx="825.8" cy="1420.8" r="7.2" fill="#f03e41"/><circle cx="833" cy="1426.9" r="7.2" fill="#f03e41"/><circle cx="839.1" cy="1438.1" r="7.2" fill="#f03e41"/><circle cx="846.3" cy="1448.4" r="7.2" fill="#f03e41"/><circle cx="854.5" cy="1451.4" r="7.2" fill="#f03e41"/><circle cx="860.6" cy="1472.9" r="7.2" fill="#f03e41"/><circle cx="866.7" cy="1485.2" r="7.2" fill="#f03e41"/><circle cx="873.9" cy="1497.6" r="7.2" fill="#f03e41"/><circle cx="882.4" cy="1486.1" r="7.2" fill="#f03e41"/><circle cx="888.8" cy="1469.1" r="7.2" fill="#f03e41"/><circle cx="894.1" cy="1448.8" r="7.2" fill="#f03e41"/><circle cx="903.7" cy="1448.8" r="7.2" fill="#f03e41"/><circle cx="910.1" cy="1436" r="7.2" fill="#f03e41"/><circle cx="915.5" cy="1425.3" r="7.2" fill="#f03e41"/><circle cx="922.9" cy="1421.1" r="7.2" fill="#f03e41"/><circle cx="929.3" cy="1415.7" r="7.2" fill="#f03e41"/><circle cx="936.8" cy="1413.6" r="7.2" fill="#f03e41"/><circle cx="943.2" cy="1405.1" r="7.2" fill="#f03e41"/><circle cx="950.7" cy="1405.1" r="7.2" fill="#f03e41"/><circle cx="958.1" cy="1392.3" r="7.2" fill="#f03e41"/><circle cx="964.5" cy="1400.8" r="7.2" fill="#f03e41"/><circle cx="970.9" cy="1385.9" r="7.2" fill="#f03e41"/><circle cx="978.4" cy="1383.7" r="7.2" fill="#f03e41"/><circle cx="985.9" cy="1385.9" r="7.2" fill="#f03e41"/><circle cx="993.3" cy="1382.7" r="7.2" fill="#f03e41"/><circle cx="1000.8" cy="1383.7" r="7.2" fill="#f03e41"/><circle cx="1007.2" cy="1385.9" r="7.2" fill="#f03e41"/><circle cx="1013.6" cy="1372" r="7.2" fill="#f03e41"/><circle cx="1021.1" cy="1369.9" r="7.2" fill="#f03e41"/><circle cx="1027.5" cy="1363.5" r="7.2" fill="#f03e41"/><circle cx="1033.9" cy="1372" r="7.2" fill="#f03e41"/><circle cx="1041.3" cy="1364.5" r="7.2" fill="#f03e41"/><circle cx="1048.8" cy="1360.3" r="7.2" fill="#f03e41"/><circle cx="1055.2" cy="1365.6" r="7.2" fill="#f03e41"/><circle cx="1062.7" cy="1356" r="7.2" fill="#f03e41"/><circle cx="1069.1" cy="1361.3" r="7.2" fill="#f03e41"/><circle cx="1076.5" cy="1363.5" r="7.2" fill="#f03e41"/><circle cx="1084" cy="1354.9" r="7.2" fill="#f03e41"/><circle cx="1090.4" cy="1353.9" r="7.2" fill="#f03e41"/><circle cx="1092.5" cy="1348.5" r="7.2" fill="#f03e41"/><polyline points="640,1350 640.55,1350.13 640.68,1350.15 641.74,1350.4 645.07,1351.24 652,1353 664.4,1356.11 681.37,1360.33 700.12,1365.04 717.87,1369.6 731.8,1373.4 741.17,1376.24 747.83,1378.54 752.93,1380.59 757.61,1382.65 763,1385 769.22,1387.73 775.51,1390.65 781.7,1393.64 787.62,1396.56 793.1,1399.3 798.05,1401.76 802.59,1404.01 806.84,1406.21 810.94,1408.5 815,1411 819.08,1413.77 823.1,1416.72 826.97,1419.77 830.63,1422.86 834,1425.9 837.01,1428.8 839.7,1431.61 842.2,1434.48 844.59,1437.55 847,1441 849.46,1444.99 851.9,1449.42 854.26,1454.02 856.48,1458.54 858.5,1462.7 860.25,1466.4 861.77,1469.81 863.16,1473.1 864.54,1476.44 866,1480 867.57,1484.4 869.17,1489.53 870.78,1494.46 872.36,1498.26 873.9,1500 875.34,1499.14 876.71,1496.29 878.07,1492.28 879.48,1487.91 881,1484 882.57,1480.61 884.13,1477.19 885.81,1473.66 887.69,1469.92 889.9,1465.9 892.46,1461.44 895.31,1456.61 898.38,1451.62 901.63,1446.68 905,1442 908.52,1437.52 912.22,1433.1 916.07,1428.83 920.01,1424.8 924,1421.1 928.06,1417.8 932.22,1414.85 936.45,1412.13 940.72,1409.54 945,1407 949.27,1404.49 953.55,1402.07 957.87,1399.76 962.25,1397.57 966.7,1395.5 971.32,1393.56 976.1,1391.74 980.89,1390.03 985.57,1388.45 990,1387 993.77,1385.87 996.98,1385.06 1000.23,1384.27 1004.13,1383.22 1009.3,1381.6 1015.76,1379.36 1023.11,1376.68 1031.3,1373.67 1040.28,1370.41 1050,1367 1061.72,1363.03 1075.49,1358.43 1089.39,1353.82 1101.53,1349.81 1110,1347" fill="none" stroke="#f03e41" stroke-width="4.3" stroke-linejoin="round" stroke-linecap="butt"/><circle cx="654.1" cy="1238.4" r="6.75" fill="none" stroke="#f03e41" stroke-width="3.3"/><circle cx="656.1" cy="1271.2" r="6.75" fill="none" stroke="#f03e41" stroke-width="3.3"/><circle cx="721.6" cy="1263" r="6.75" fill="none" stroke="#f03e41" stroke-width="3.3"/><circle cx="733.8" cy="1280.4" r="6.75" fill="none" stroke="#f03e41" stroke-width="3.3"/><circle cx="741" cy="1286.5" r="6.75" fill="none" stroke="#f03e41" stroke-width="3.3"/><circle cx="726.7" cy="1292.6" r="6.75" fill="none" stroke="#f03e41" stroke-width="3.3"/><circle cx="671.5" cy="1292.6" r="6.75" fill="none" stroke="#f03e41" stroke-width="3.3"/><circle cx="690.9" cy="1296.7" r="6.75" fill="none" stroke="#f03e41" stroke-width="3.3"/><circle cx="705.2" cy="1294.7" r="6.75" fill="none" stroke="#f03e41" stroke-width="3.3"/><circle cx="712.4" cy="1315.1" r="6.75" fill="none" stroke="#f03e41" stroke-width="3.3"/><circle cx="748.1" cy="1303.9" r="6.75" fill="none" stroke="#f03e41" stroke-width="3.3"/><circle cx="755.3" cy="1312" r="6.75" fill="none" stroke="#f03e41" stroke-width="3.3"/><circle cx="761.4" cy="1309" r="6.75" fill="none" stroke="#f03e41" stroke-width="3.3"/><circle cx="775.7" cy="1312" r="6.75" fill="none" stroke="#f03e41" stroke-width="3.3"/><circle cx="768.6" cy="1330.5" r="6.75" fill="none" stroke="#f03e41" stroke-width="3.3"/><circle cx="780.9" cy="1339.7" r="6.75" fill="none" stroke="#f03e41" stroke-width="3.3"/><circle cx="791.1" cy="1325.3" r="6.75" fill="none" stroke="#f03e41" stroke-width="3.3"/><circle cx="799.3" cy="1327.4" r="6.75" fill="none" stroke="#f03e41" stroke-width="3.3"/><circle cx="803.3" cy="1340.7" r="6.75" fill="none" stroke="#f03e41" stroke-width="3.3"/><circle cx="811.5" cy="1341.7" r="6.75" fill="none" stroke="#f03e41" stroke-width="3.3"/><circle cx="815.6" cy="1335.6" r="6.75" fill="none" stroke="#f03e41" stroke-width="3.3"/><circle cx="823.8" cy="1339.7" r="6.75" fill="none" stroke="#f03e41" stroke-width="3.3"/><circle cx="832" cy="1326.4" r="6.75" fill="none" stroke="#f03e41" stroke-width="3.3"/><circle cx="839.1" cy="1328.4" r="6.75" fill="none" stroke="#f03e41" stroke-width="3.3"/><circle cx="844.2" cy="1354" r="6.75" fill="none" stroke="#f03e41" stroke-width="3.3"/><circle cx="852.4" cy="1359.1" r="6.75" fill="none" stroke="#f03e41" stroke-width="3.3"/><circle cx="858.5" cy="1376.8" r="6.75" fill="none" stroke="#f03e41" stroke-width="3.3"/><circle cx="866.7" cy="1418.7" r="6.75" fill="none" stroke="#f03e41" stroke-width="3.3"/><circle cx="873.9" cy="1462.7" r="6.75" fill="none" stroke="#f03e41" stroke-width="3.3"/><circle cx="1092.9" cy="1240.5" r="6.75" fill="none" stroke="#f03e41" stroke-width="3.3"/><circle cx="1089.8" cy="1259.9" r="6.75" fill="none" stroke="#f03e41" stroke-width="3.3"/><circle cx="1026.4" cy="1263" r="6.75" fill="none" stroke="#f03e41" stroke-width="3.3"/><circle cx="1012.1" cy="1276.3" r="6.75" fill="none" stroke="#f03e41" stroke-width="3.3"/><circle cx="1004.9" cy="1289.6" r="6.75" fill="none" stroke="#f03e41" stroke-width="3.3"/><circle cx="1020.3" cy="1291.6" r="6.75" fill="none" stroke="#f03e41" stroke-width="3.3"/><circle cx="1047.9" cy="1287.5" r="6.75" fill="none" stroke="#f03e41" stroke-width="3.3"/><circle cx="1055" cy="1292.6" r="6.75" fill="none" stroke="#f03e41" stroke-width="3.3"/><circle cx="1067.3" cy="1282.4" r="6.75" fill="none" stroke="#f03e41" stroke-width="3.3"/><circle cx="1075.5" cy="1287.5" r="6.75" fill="none" stroke="#f03e41" stroke-width="3.3"/><circle cx="1082.6" cy="1278.3" r="6.75" fill="none" stroke="#f03e41" stroke-width="3.3"/><circle cx="1041.7" cy="1301.8" r="6.75" fill="none" stroke="#f03e41" stroke-width="3.3"/><circle cx="1033.6" cy="1313.1" r="6.75" fill="none" stroke="#f03e41" stroke-width="3.3"/><circle cx="984.5" cy="1308" r="6.75" fill="none" stroke="#f03e41" stroke-width="3.3"/><circle cx="992.7" cy="1312" r="6.75" fill="none" stroke="#f03e41" stroke-width="3.3"/><circle cx="998.8" cy="1308" r="6.75" fill="none" stroke="#f03e41" stroke-width="3.3"/><circle cx="971.2" cy="1316.1" r="6.75" fill="none" stroke="#f03e41" stroke-width="3.3"/><circle cx="977.3" cy="1326.4" r="6.75" fill="none" stroke="#f03e41" stroke-width="3.3"/><circle cx="950.8" cy="1325.3" r="6.75" fill="none" stroke="#f03e41" stroke-width="3.3"/><circle cx="956.9" cy="1328.4" r="6.75" fill="none" stroke="#f03e41" stroke-width="3.3"/><circle cx="963" cy="1339.7" r="6.75" fill="none" stroke="#f03e41" stroke-width="3.3"/><circle cx="914" cy="1322.3" r="6.75" fill="none" stroke="#f03e41" stroke-width="3.3"/><circle cx="906.8" cy="1329.4" r="6.75" fill="none" stroke="#f03e41" stroke-width="3.3"/><circle cx="922.1" cy="1340.7" r="6.75" fill="none" stroke="#f03e41" stroke-width="3.3"/><circle cx="930.3" cy="1340.7" r="6.75" fill="none" stroke="#f03e41" stroke-width="3.3"/><circle cx="941.6" cy="1341.7" r="6.75" fill="none" stroke="#f03e41" stroke-width="3.3"/><circle cx="901.7" cy="1354" r="6.75" fill="none" stroke="#f03e41" stroke-width="3.3"/><circle cx="894.5" cy="1362.1" r="6.75" fill="none" stroke="#f03e41" stroke-width="3.3"/><circle cx="886.4" cy="1376.5" r="6.75" fill="none" stroke="#f03e41" stroke-width="3.3"/><circle cx="866.4" cy="1418.9" r="6.75" fill="none" stroke="#f03e41" stroke-width="3.3"/><circle cx="881.3" cy="1426.4" r="6.75" fill="none" stroke="#f03e41" stroke-width="3.3"/><circle cx="872.8" cy="1461.6" r="6.75" fill="none" stroke="#f03e41" stroke-width="3.3"/><polyline points="640,1283 640.88,1283.1 641.67,1283.14 643.22,1283.33 646.38,1283.88 652,1285 660.8,1286.76 672.21,1289.04 685.16,1291.7 698.55,1294.62 711.3,1297.7 723.61,1301.05 736.2,1304.75 748.78,1308.61 761.05,1312.46 772.7,1316.1 784.14,1319.6 795.55,1323.09 806.36,1326.46 815.97,1329.63 823.8,1332.5 829.44,1335.02 833.28,1337.24 835.93,1339.26 838,1341.15 840.1,1343 842.11,1344.73 843.61,1346.28 844.8,1347.78 845.87,1349.31 847,1351 848.2,1352.86 849.33,1354.81 850.41,1356.83 851.43,1358.9 852.4,1361 853.3,1363.07 854.13,1365.14 854.92,1367.26 855.7,1369.53 856.5,1372 857.34,1374.7 858.2,1377.57 859.05,1380.59 859.86,1383.74 860.6,1387 861.25,1390.36 861.83,1393.84 862.38,1397.45 862.92,1401.17 863.5,1405 864.12,1409.01 864.75,1413.19 865.4,1417.46 866.05,1421.72 866.7,1425.9 867.35,1429.99 868.01,1434.05 868.67,1438.08 869.33,1442.06 870,1446 870.67,1450.49 871.35,1455.55 872.04,1460.26 872.72,1463.71 873.4,1465 874.08,1463.52 874.76,1459.89 875.43,1455 876.11,1449.74 876.8,1445 877.49,1440.78 878.18,1436.48 878.88,1432.11 879.59,1427.68 880.3,1423.2 881.03,1418.6 881.77,1413.87 882.51,1409.12 883.26,1404.46 884,1400 884.71,1395.72 885.4,1391.53 886.1,1387.49 886.86,1383.63 887.7,1380 888.62,1376.65 889.59,1373.54 890.63,1370.62 891.76,1367.79 893,1365 894.28,1362.32 895.59,1359.8 897.03,1357.32 898.7,1354.76 900.7,1352 902.78,1348.92 904.86,1345.61 907.34,1342.23 910.59,1338.97 915,1336 920.85,1333.41 927.9,1331.09 935.7,1328.89 943.82,1326.67 951.8,1324.3 959.72,1321.74 967.86,1319.1 976.14,1316.4 984.45,1313.69 992.7,1311 1000.88,1308.29 1009.06,1305.53 1017.24,1302.8 1025.42,1300.16 1033.6,1297.7 1041.87,1295.48 1050.22,1293.46 1058.53,1291.52 1066.67,1289.57 1074.5,1287.5 1082.51,1285.1 1090.79,1282.44 1098.62,1279.83 1105.26,1277.58 1110,1276" fill="none" stroke="#f03e41" stroke-width="4.3" stroke-linejoin="round" stroke-linecap="butt"/></g><g transform="translate(816 1282.9) scale(1 1.05)"><text x="0" y="0" font-size="36.6" stroke="#000" stroke-width="0.35">0.60<tspan font-size="12"> </tspan>ps</text></g><g transform="translate(871 1329.6) scale(1 1.05)"><text x="0" y="0" font-size="36.6" text-anchor="middle" stroke="#000" stroke-width="0.35">(X)</text></g><g transform="translate(676.5 1456.2) scale(1 1.05)"><text x="0" y="0" font-size="36.6" stroke="#000" stroke-width="0.35">1.76<tspan font-size="12"> </tspan>ps</text></g><g transform="translate(732 1502.7) scale(1 1.05)"><text x="0" y="0" font-size="36.6" text-anchor="middle" stroke="#000" stroke-width="0.35">(CX)</text></g><g transform="translate(924 1486.3) scale(1 1.05)"><text x="0" y="0" font-size="36.6" stroke="#000" stroke-width="0.35">F<tspan font-size="24.5" dy="9.5">p</tspan><tspan dy="-9.5" font-size="12"> </tspan>=<tspan font-size="12"> </tspan>1.02</text></g><rect x="651.5" y="1220.6" width="445" height="314.1" fill="none" stroke="#000" stroke-width="4.4" stroke-linejoin="miter"/><line x1="678.25" y1="1534.7" x2="678.25" y2="1511.4" stroke="#000" stroke-width="4.4" stroke-linecap="butt"/><line x1="678.25" y1="1220.6" x2="678.25" y2="1243.9" stroke="#000" stroke-width="4.4" stroke-linecap="butt"/><line x1="743.55" y1="1534.7" x2="743.55" y2="1511.4" stroke="#000" stroke-width="4.4" stroke-linecap="butt"/><line x1="743.55" y1="1220.6" x2="743.55" y2="1243.9" stroke="#000" stroke-width="4.4" stroke-linecap="butt"/><line x1="808.85" y1="1534.7" x2="808.85" y2="1511.4" stroke="#000" stroke-width="4.4" stroke-linecap="butt"/><line x1="808.85" y1="1220.6" x2="808.85" y2="1243.9" stroke="#000" stroke-width="4.4" stroke-linecap="butt"/><line x1="874.15" y1="1534.7" x2="874.15" y2="1511.4" stroke="#000" stroke-width="4.4" stroke-linecap="butt"/><line x1="874.15" y1="1220.6" x2="874.15" y2="1243.9" stroke="#000" stroke-width="4.4" stroke-linecap="butt"/><line x1="939.45" y1="1534.7" x2="939.45" y2="1511.4" stroke="#000" stroke-width="4.4" stroke-linecap="butt"/><line x1="939.45" y1="1220.6" x2="939.45" y2="1243.9" stroke="#000" stroke-width="4.4" stroke-linecap="butt"/><line x1="1004.75" y1="1534.7" x2="1004.75" y2="1511.4" stroke="#000" stroke-width="4.4" stroke-linecap="butt"/><line x1="1004.75" y1="1220.6" x2="1004.75" y2="1243.9" stroke="#000" stroke-width="4.4" stroke-linecap="butt"/><line x1="1070.05" y1="1534.7" x2="1070.05" y2="1511.4" stroke="#000" stroke-width="4.4" stroke-linecap="butt"/><line x1="1070.05" y1="1220.6" x2="1070.05" y2="1243.9" stroke="#000" stroke-width="4.4" stroke-linecap="butt"/><line x1="710.9" y1="1534.7" x2="710.9" y2="1522.5" stroke="#000" stroke-width="4.4" stroke-linecap="butt"/><line x1="710.9" y1="1220.6" x2="710.9" y2="1232.8" stroke="#000" stroke-width="4.4" stroke-linecap="butt"/><line x1="776.2" y1="1534.7" x2="776.2" y2="1522.5" stroke="#000" stroke-width="4.4" stroke-linecap="butt"/><line x1="776.2" y1="1220.6" x2="776.2" y2="1232.8" stroke="#000" stroke-width="4.4" stroke-linecap="butt"/><line x1="841.5" y1="1534.7" x2="841.5" y2="1522.5" stroke="#000" stroke-width="4.4" stroke-linecap="butt"/><line x1="841.5" y1="1220.6" x2="841.5" y2="1232.8" stroke="#000" stroke-width="4.4" stroke-linecap="butt"/><line x1="906.8" y1="1534.7" x2="906.8" y2="1522.5" stroke="#000" stroke-width="4.4" stroke-linecap="butt"/><line x1="906.8" y1="1220.6" x2="906.8" y2="1232.8" stroke="#000" stroke-width="4.4" stroke-linecap="butt"/><line x1="972.1" y1="1534.7" x2="972.1" y2="1522.5" stroke="#000" stroke-width="4.4" stroke-linecap="butt"/><line x1="972.1" y1="1220.6" x2="972.1" y2="1232.8" stroke="#000" stroke-width="4.4" stroke-linecap="butt"/><line x1="1037.4" y1="1534.7" x2="1037.4" y2="1522.5" stroke="#000" stroke-width="4.4" stroke-linecap="butt"/><line x1="1037.4" y1="1220.6" x2="1037.4" y2="1232.8" stroke="#000" stroke-width="4.4" stroke-linecap="butt"/><line x1="651.5" y1="1261.71" x2="674.8" y2="1261.71" stroke="#000" stroke-width="4.4" stroke-linecap="butt"/><line x1="1096.5" y1="1261.71" x2="1073.2" y2="1261.71" stroke="#000" stroke-width="4.4" stroke-linecap="butt"/><line x1="651.5" y1="1346.59" x2="674.8" y2="1346.59" stroke="#000" stroke-width="4.4" stroke-linecap="butt"/><line x1="1096.5" y1="1346.59" x2="1073.2" y2="1346.59" stroke="#000" stroke-width="4.4" stroke-linecap="butt"/><line x1="651.5" y1="1410.8" x2="674.8" y2="1410.8" stroke="#000" stroke-width="4.4" stroke-linecap="butt"/><line x1="1096.5" y1="1410.8" x2="1073.2" y2="1410.8" stroke="#000" stroke-width="4.4" stroke-linecap="butt"/><line x1="651.5" y1="1475.01" x2="674.8" y2="1475.01" stroke="#000" stroke-width="4.4" stroke-linecap="butt"/><line x1="1096.5" y1="1475.01" x2="1073.2" y2="1475.01" stroke="#000" stroke-width="4.4" stroke-linecap="butt"/><line x1="651.5" y1="1299.27" x2="663.7" y2="1299.27" stroke="#000" stroke-width="4.4" stroke-linecap="butt"/><line x1="1096.5" y1="1299.27" x2="1084.3" y2="1299.27" stroke="#000" stroke-width="4.4" stroke-linecap="butt"/><line x1="651.5" y1="1325.92" x2="663.7" y2="1325.92" stroke="#000" stroke-width="4.4" stroke-linecap="butt"/><line x1="1096.5" y1="1325.92" x2="1084.3" y2="1325.92" stroke="#000" stroke-width="4.4" stroke-linecap="butt"/><line x1="651.5" y1="1363.48" x2="663.7" y2="1363.48" stroke="#000" stroke-width="4.4" stroke-linecap="butt"/><line x1="1096.5" y1="1363.48" x2="1084.3" y2="1363.48" stroke="#000" stroke-width="4.4" stroke-linecap="butt"/><line x1="651.5" y1="1377.76" x2="663.7" y2="1377.76" stroke="#000" stroke-width="4.4" stroke-linecap="butt"/><line x1="1096.5" y1="1377.76" x2="1084.3" y2="1377.76" stroke="#000" stroke-width="4.4" stroke-linecap="butt"/><line x1="651.5" y1="1390.13" x2="663.7" y2="1390.13" stroke="#000" stroke-width="4.4" stroke-linecap="butt"/><line x1="1096.5" y1="1390.13" x2="1084.3" y2="1390.13" stroke="#000" stroke-width="4.4" stroke-linecap="butt"/><line x1="651.5" y1="1401.04" x2="663.7" y2="1401.04" stroke="#000" stroke-width="4.4" stroke-linecap="butt"/><line x1="1096.5" y1="1401.04" x2="1084.3" y2="1401.04" stroke="#000" stroke-width="4.4" stroke-linecap="butt"/><line x1="651.5" y1="1448.36" x2="663.7" y2="1448.36" stroke="#000" stroke-width="4.4" stroke-linecap="butt"/><line x1="1096.5" y1="1448.36" x2="1084.3" y2="1448.36" stroke="#000" stroke-width="4.4" stroke-linecap="butt"/><line x1="651.5" y1="1495.68" x2="663.7" y2="1495.68" stroke="#000" stroke-width="4.4" stroke-linecap="butt"/><line x1="1096.5" y1="1495.68" x2="1084.3" y2="1495.68" stroke="#000" stroke-width="4.4" stroke-linecap="butt"/><rect x="661.8" y="1232.4" width="52.9" height="54.1" fill="#fff" stroke="#000" stroke-width="4.3"/><g transform="translate(688.25 1270.5) scale(1 1.0)"><text x="0" y="0" font-size="36.6" text-anchor="middle" fill="#000"  stroke="#000" stroke-width="0.35">(g)</text></g><g transform="translate(639.1 1272.71) scale(1 1.06)"><text x="0" y="0" font-size="36.6" text-anchor="end" fill="#000"  stroke="#000" stroke-width="0.35">98</text></g><g transform="translate(639.1 1357.59) scale(1 1.06)"><text x="0" y="0" font-size="36.6" text-anchor="end" fill="#000"  stroke="#000" stroke-width="0.35">95</text></g><g transform="translate(639.1 1421.8) scale(1 1.06)"><text x="0" y="0" font-size="36.6" text-anchor="end" fill="#000"  stroke="#000" stroke-width="0.35">90</text></g><g transform="translate(639.1 1486.01) scale(1 1.06)"><text x="0" y="0" font-size="36.6" text-anchor="end" fill="#000"  stroke="#000" stroke-width="0.35">80</text></g><g transform="translate(678.75 1590.9) scale(1 1.06)"><text x="0" y="0" font-size="36.6" text-anchor="middle" fill="#000"  stroke="#000" stroke-width="0.35">-15</text></g><g transform="translate(744.05 1590.9) scale(1 1.06)"><text x="0" y="0" font-size="36.6" text-anchor="middle" fill="#000"  stroke="#000" stroke-width="0.35">-10</text></g><g transform="translate(809.35 1590.9) scale(1 1.06)"><text x="0" y="0" font-size="36.6" text-anchor="middle" fill="#000"  stroke="#000" stroke-width="0.35">-5</text></g><g transform="translate(874.15 1590.9) scale(1 1.06)"><text x="0" y="0" font-size="36.6" text-anchor="middle" fill="#000"  stroke="#000" stroke-width="0.35">0</text></g><g transform="translate(939.45 1590.9) scale(1 1.06)"><text x="0" y="0" font-size="36.6" text-anchor="middle" fill="#000"  stroke="#000" stroke-width="0.35">5</text></g><g transform="translate(1006.75 1590.9) scale(1 1.06)"><text x="0" y="0" font-size="36.6" text-anchor="middle" fill="#000"  stroke="#000" stroke-width="0.35">10</text></g><g transform="translate(1070.05 1590.9) scale(1 1.06)"><text x="0" y="0" font-size="36.6" text-anchor="middle" fill="#000"  stroke="#000" stroke-width="0.35">15</text></g><g transform="translate(889.95 1638.2) scale(1 1.05)"><text x="0" y="0" font-size="35.9" text-anchor="middle" fill="#000"  stroke="#000" stroke-width="0.35">Pulse Delay (ps)</text></g><g transform="translate(588.5 1397) rotate(-90) scale(1 1.06)"><text x="0" y="0" font-size="36.6" text-anchor="middle" fill="#000" stroke="#000" stroke-width="0.35">Relative PL Intensity (%)</text></g></svg></body></html>
